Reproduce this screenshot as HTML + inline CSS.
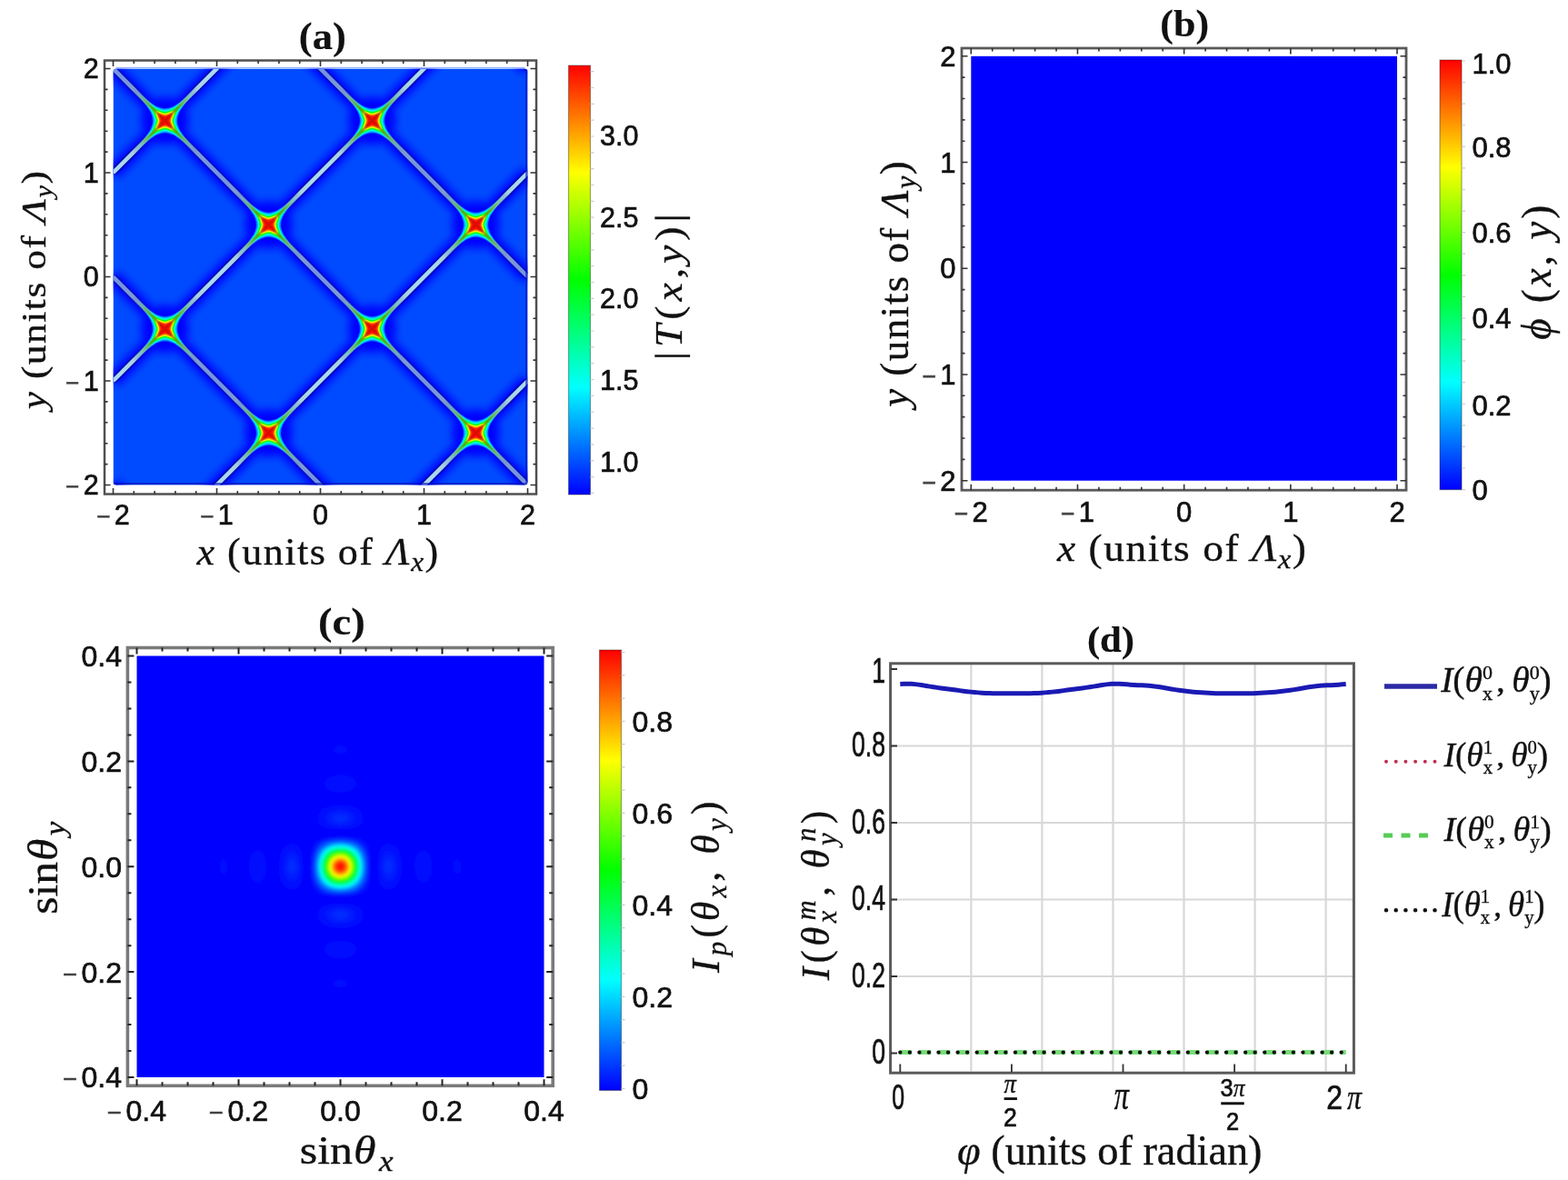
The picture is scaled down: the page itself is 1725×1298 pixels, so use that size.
<!DOCTYPE html>
<html><head><meta charset="utf-8"><title>Figure</title>
<style>
html,body{margin:0;padding:0;background:#fff;}
body{width:1725px;height:1298px;overflow:hidden;}
svg{display:block;}
.s{font-family:'Liberation Sans', Arial, sans-serif;fill:#111;stroke:#111;stroke-width:0.7px;}
.r{font-family:'Liberation Serif', 'Times New Roman', serif;fill:#111;stroke:#111;stroke-width:0.35px;}
.i{font-style:italic;}
.b{font-weight:bold;stroke-width:0.2px;}
</style></head><body>
<svg width="1725" height="1298" viewBox="0 0 1725 1298">
<defs>
<linearGradient id="hue" x1="0" y1="1" x2="0" y2="0">
<stop offset="0" stop-color="#0000ff"/><stop offset="0.25" stop-color="#00ffff"/><stop offset="0.5" stop-color="#00ff00"/><stop offset="0.75" stop-color="#ffff00"/><stop offset="1" stop-color="#ff0000"/>
</linearGradient>
<filter id="blurh" x="-20%" y="-20%" width="140%" height="140%"><feGaussianBlur stdDeviation="5"/></filter>
<filter id="blurs" x="-20%" y="-20%" width="140%" height="140%"><feGaussianBlur stdDeviation="0.5"/></filter>
<filter id="blurc" x="-10%" y="-10%" width="120%" height="120%"><feGaussianBlur stdDeviation="1.4"/></filter>
<radialGradient id="olive" gradientUnits="userSpaceOnUse" cx="0" cy="0" r="46"><stop offset="0.1" stop-color="#902010" stop-opacity="0.35"/><stop offset="0.3" stop-color="#7a5a10" stop-opacity="0.55"/><stop offset="0.6" stop-color="#607a30" stop-opacity="0.5"/><stop offset="1" stop-color="#7090a0" stop-opacity="0"/></radialGradient>
<radialGradient id="mfade"><stop offset="0.45" stop-color="#000"/><stop offset="1" stop-color="#fff"/></radialGradient>
</defs>
<rect width="1725" height="1298" fill="#fff"/>

<clipPath id="clipa"><rect x="124.5" y="75.5" width="456.0" height="458.0" rx="3.5"/></clipPath>
<g clip-path="url(#clipa)">
<rect x="124.5" y="75.5" width="456.0" height="458.0" fill="#004bff"/>
<g filter="url(#blurh)"><path d="M124.5 533.5L580.5 991.5M124.5 304.5L580.5 762.5M124.5 75.5L580.5 533.5M124.5 -153.5L580.5 304.5M124.5 -382.5L580.5 75.5M124.5 877L580.5 419M124.5 648L580.5 190M124.5 419L580.5 -39M124.5 190L580.5 -268" stroke="#0000ff" stroke-width="16" fill="none"/>
<circle cx="181.5" cy="132.75" r="26" fill="#0000ff"/>
<circle cx="409.5" cy="132.75" r="26" fill="#0000ff"/>
<circle cx="295.5" cy="247.25" r="26" fill="#0000ff"/>
<circle cx="523.5" cy="247.25" r="26" fill="#0000ff"/>
<circle cx="181.5" cy="361.75" r="26" fill="#0000ff"/>
<circle cx="409.5" cy="361.75" r="26" fill="#0000ff"/>
<circle cx="295.5" cy="476.25" r="26" fill="#0000ff"/>
<circle cx="523.5" cy="476.25" r="26" fill="#0000ff"/>
</g>
<defs><g id="hs" filter="url(#blurs)">
<path d="M-36.9,-36.8 -36.8,-36.9 -36.5,-36.8 -35.2,-35.9 -19.3,-22.8 -11.8,-17.2 -8.5,-15.5 -5.5,-14.5 -2.8,-13.8 0.0,-13.6 2.8,-13.8 5.5,-14.5 8.5,-15.5 11.8,-17.2 18.0,-21.8 34.8,-35.5 36.8,-36.9 36.9,-36.8 36.8,-36.5 35.9,-35.2 22.8,-19.3 17.2,-11.8 15.5,-8.5 14.5,-5.5 13.8,-2.8 13.6,0.0 13.8,2.8 14.5,5.5 15.5,8.5 17.2,11.8 21.8,18.0 35.5,34.8 36.9,36.8 36.8,36.9 36.5,36.8 35.2,35.9 19.3,22.8 11.8,17.2 8.5,15.5 5.5,14.5 2.8,13.8 0.0,13.6 -2.8,13.8 -5.5,14.5 -8.5,15.5 -11.8,17.2 -18.0,21.8 -34.8,35.5 -36.8,36.9 -36.9,36.8 -36.8,36.5 -35.9,35.2 -22.8,19.3 -17.2,11.8 -15.5,8.5 -14.5,5.5 -13.8,2.8 -13.6,0.0 -13.8,-2.8 -14.5,-5.5 -15.5,-8.5 -17.2,-11.8 -21.8,-18.0 -35.5,-34.8Z" fill="#0078ff"/>
<path d="M-34.6,-34.5 -34.2,-34.5 -32.8,-33.5 -18.0,-21.2 -11.2,-16.3 -8.5,-14.8 -5.2,-13.6 -2.8,-13.0 0.0,-12.7 2.9,-13.0 5.5,-13.7 8.9,-15.0 11.6,-16.5 18.0,-21.2 32.8,-33.5 34.5,-34.6 34.5,-34.2 33.5,-32.8 21.2,-18.0 16.3,-11.2 14.8,-8.5 13.6,-5.2 13.0,-2.8 12.7,0.0 13.0,2.9 13.7,5.5 15.0,8.9 16.5,11.6 21.2,18.0 33.5,32.8 34.6,34.5 34.2,34.5 32.8,33.5 18.0,21.2 11.2,16.3 8.5,14.8 5.2,13.6 2.8,13.0 0.0,12.7 -2.9,13.0 -5.5,13.7 -8.9,15.0 -11.6,16.5 -18.0,21.2 -32.8,33.5 -34.5,34.6 -34.5,34.2 -33.5,32.8 -21.2,18.0 -16.3,11.2 -14.8,8.5 -13.6,5.2 -13.0,2.8 -12.7,0.0 -13.0,-2.9 -13.7,-5.5 -15.0,-8.9 -16.5,-11.6 -21.2,-18.0 -33.5,-32.8Z" fill="#009cff"/>
<path d="M-32.7,-32.5 -32.2,-32.6 -31.0,-31.7 -17.2,-20.2 -11.2,-15.8 -9.0,-14.5 -5.3,-13.0 -2.5,-12.3 0.0,-12.0 2.5,-12.3 5.3,-13.0 9.0,-14.5 11.2,-15.8 16.0,-19.2 29.7,-30.7 32.5,-32.7 32.6,-32.2 31.7,-31.0 20.2,-17.2 15.8,-11.2 14.5,-9.0 13.0,-5.3 12.3,-2.5 12.0,0.0 12.3,2.5 13.0,5.3 14.5,9.0 15.8,11.2 19.2,16.0 30.7,29.7 32.7,32.5 32.2,32.6 31.0,31.7 17.2,20.2 11.2,15.8 9.0,14.5 5.3,13.0 2.5,12.3 0.0,12.0 -2.5,12.3 -5.3,13.0 -9.0,14.5 -11.2,15.8 -16.0,19.2 -29.7,30.7 -32.5,32.7 -32.6,32.2 -31.7,31.0 -20.2,17.2 -15.8,11.2 -14.5,9.0 -13.0,5.3 -12.3,2.5 -12.0,0.0 -12.3,-2.5 -13.0,-5.3 -14.5,-9.0 -15.8,-11.2 -19.2,-16.0 -30.7,-29.7Z" fill="#00bfff"/>
<path d="M-31.0,-31.0 -30.2,-30.8 -29.2,-30.0 -15.8,-18.8 -11.0,-15.2 -8.8,-14.0 -5.2,-12.5 -2.4,-11.8 0.0,-11.4 2.4,-11.8 5.2,-12.5 8.8,-14.0 11.0,-15.2 15.8,-18.8 29.2,-30.0 31.0,-31.0 30.8,-30.2 30.0,-29.2 18.8,-15.8 15.2,-11.0 14.0,-8.8 12.5,-5.2 11.8,-2.4 11.4,0.0 11.8,2.4 12.5,5.2 14.0,8.8 15.2,11.0 18.8,15.8 30.0,29.2 31.0,31.0 30.2,30.8 29.2,30.0 15.8,18.8 11.0,15.2 8.8,14.0 5.2,12.5 2.4,11.8 0.0,11.4 -2.4,11.8 -5.2,12.5 -8.8,14.0 -11.0,15.2 -15.8,18.8 -29.2,30.0 -31.0,31.0 -30.8,30.2 -30.0,29.2 -18.8,15.8 -15.2,11.0 -14.0,8.8 -12.5,5.2 -11.8,2.4 -11.4,0.0 -11.8,-2.4 -12.5,-5.2 -14.0,-8.8 -15.2,-11.0 -18.8,-15.8 -30.0,-29.2Z" fill="#00e3ff"/>
<path d="M-29.5,-29.5 -28.8,-29.3 -27.8,-28.5 -15.5,-18.2 -10.8,-14.8 -5.5,-12.2 -2.5,-11.3 0.0,-11.0 2.5,-11.3 5.5,-12.2 10.8,-14.8 15.5,-18.2 27.8,-28.5 28.8,-29.3 29.5,-29.5 29.3,-28.8 28.5,-27.8 18.2,-15.5 14.8,-10.8 12.2,-5.5 11.3,-2.5 11.0,0.0 11.3,2.5 12.2,5.5 14.8,10.8 18.2,15.5 28.5,27.8 29.3,28.8 29.5,29.5 28.8,29.3 27.8,28.5 15.5,18.2 10.8,14.8 5.5,12.2 2.5,11.3 0.0,11.0 -2.5,11.3 -5.5,12.2 -10.8,14.8 -15.5,18.2 -27.8,28.5 -28.8,29.3 -29.5,29.5 -29.3,28.8 -28.5,27.8 -18.2,15.5 -14.8,10.8 -12.2,5.5 -11.3,2.5 -11.0,0.0 -11.3,-2.5 -12.2,-5.5 -14.8,-10.8 -18.2,-15.5 -28.5,-27.8 -29.3,-28.8Z" fill="#00fff7"/>
<path d="M-28.1,-28.0 -27.5,-27.9 -26.2,-27.0 -15.2,-17.7 -10.5,-14.2 -5.2,-11.8 -2.5,-11.0 0.0,-10.6 2.5,-11.0 5.2,-11.8 10.5,-14.2 15.2,-17.7 26.2,-27.0 28.0,-28.1 27.9,-27.5 27.0,-26.2 17.7,-15.2 14.2,-10.5 11.8,-5.2 11.0,-2.5 10.6,0.0 11.0,2.5 11.8,5.2 14.2,10.5 17.7,15.2 27.0,26.2 28.1,28.0 27.5,27.9 26.2,27.0 15.2,17.7 10.5,14.2 5.2,11.8 2.5,11.0 0.0,10.6 -2.5,11.0 -5.2,11.8 -10.5,14.2 -15.2,17.7 -26.2,27.0 -28.0,28.1 -27.9,27.5 -27.0,26.2 -17.7,15.2 -14.2,10.5 -11.8,5.2 -11.0,2.5 -10.6,0.0 -11.0,-2.5 -11.8,-5.2 -14.2,-10.5 -17.7,-15.2 -27.0,-26.2Z" fill="#00ffd4"/>
<path d="M-26.7,-26.5 -26.2,-26.6 -25.0,-25.7 -14.8,-17.1 -10.5,-14.0 -5.2,-11.4 -2.2,-10.6 0.0,-10.2 2.2,-10.6 5.2,-11.4 10.6,-14.0 14.8,-17.1 25.0,-25.7 26.5,-26.7 26.6,-26.2 25.7,-25.0 17.1,-14.8 14.0,-10.5 11.4,-5.2 10.6,-2.2 10.2,0.0 10.6,2.2 11.4,5.2 14.0,10.6 17.1,14.8 25.7,25.0 26.7,26.5 26.2,26.6 25.0,25.7 14.8,17.1 10.5,14.0 5.2,11.4 2.2,10.6 0.0,10.2 -2.2,10.6 -5.2,11.4 -10.6,14.0 -14.8,17.1 -25.0,25.7 -26.5,26.7 -26.6,26.2 -25.7,25.0 -17.1,14.8 -14.0,10.5 -11.4,5.2 -10.6,2.2 -10.2,0.0 -10.6,-2.2 -11.4,-5.2 -14.0,-10.6 -17.1,-14.8 -25.7,-25.0Z" fill="#00ffb0"/>
<path d="M-25.1,-25.0 -24.8,-25.1 -23.5,-24.2 -14.2,-16.4 -10.2,-13.5 -4.8,-11.0 -2.2,-10.2 0.0,-9.9 2.2,-10.2 4.8,-11.0 7.3,-12.0 10.5,-13.7 14.2,-16.4 23.5,-24.2 25.0,-25.1 25.1,-24.8 24.2,-23.5 16.4,-14.2 13.5,-10.2 11.0,-4.8 10.2,-2.2 9.9,0.0 10.2,2.2 11.0,4.8 12.0,7.3 13.7,10.5 16.4,14.2 24.2,23.5 25.1,25.0 24.8,25.1 23.5,24.2 14.2,16.4 10.2,13.5 4.8,11.0 2.2,10.2 0.0,9.9 -2.2,10.2 -4.8,11.0 -7.3,12.0 -10.5,13.7 -14.2,16.4 -23.5,24.2 -25.0,25.1 -25.1,24.8 -24.2,23.5 -16.4,14.2 -13.5,10.2 -11.0,4.8 -10.2,2.2 -9.9,0.0 -10.2,-2.2 -11.0,-4.8 -12.0,-7.3 -13.7,-10.5 -16.4,-14.2 -24.2,-23.5Z" fill="#00ff8c"/>
<path d="M-23.5,-23.2 -23.2,-23.5 -22.4,-23.0 -14.0,-15.9 -10.2,-13.2 -4.8,-10.7 -2.2,-9.9 0.0,-9.6 2.2,-9.9 4.8,-10.7 10.2,-13.3 13.5,-15.5 21.5,-22.3 23.2,-23.5 23.5,-23.2 23.0,-22.4 15.9,-14.0 13.2,-10.2 10.7,-4.8 9.9,-2.2 9.6,0.0 9.9,2.2 10.7,4.8 13.3,10.2 15.5,13.5 22.3,21.5 23.5,23.2 23.2,23.5 22.4,23.0 14.0,15.9 10.2,13.2 4.8,10.7 2.2,9.9 0.0,9.6 -2.2,9.9 -4.8,10.7 -10.2,13.3 -13.5,15.5 -21.5,22.3 -23.2,23.5 -23.5,23.2 -23.0,22.4 -15.9,14.0 -13.2,10.2 -10.7,4.8 -9.9,2.2 -9.6,0.0 -9.9,-2.2 -10.7,-4.8 -13.3,-10.2 -15.5,-13.5 -22.3,-21.5Z" fill="#00ff69"/>
<path d="M-21.4,-21.2 -21.2,-21.4 -20.5,-21.0 -13.2,-15.1 -10.0,-12.9 -4.2,-10.3 -2.0,-9.6 0.0,-9.3 2.0,-9.6 4.5,-10.4 10.2,-13.0 13.0,-14.9 19.5,-20.2 21.2,-21.4 21.4,-21.2 21.0,-20.5 15.1,-13.2 12.9,-10.0 10.3,-4.2 9.6,-2.0 9.3,0.0 9.6,2.0 10.4,4.5 13.0,10.2 14.9,13.0 20.2,19.5 21.4,21.2 21.2,21.4 20.5,21.0 13.2,15.1 10.0,12.9 4.2,10.3 2.0,9.6 0.0,9.3 -2.0,9.6 -4.5,10.4 -10.2,13.0 -13.0,14.9 -19.5,20.2 -21.2,21.4 -21.4,21.2 -21.0,20.5 -15.1,13.2 -12.9,10.0 -10.3,4.2 -9.6,2.0 -9.3,0.0 -9.6,-2.0 -10.4,-4.5 -13.0,-10.2 -14.9,-13.0 -20.2,-19.5Z" fill="#00ff45"/>
<path d="M-18.7,-18.5 -18.5,-18.7 -17.8,-18.3 -12.8,-14.4 -9.5,-12.4 -4.0,-10.0 -1.8,-9.3 0.0,-9.1 1.8,-9.3 4.0,-10.0 9.8,-12.5 12.5,-14.2 18.5,-18.7 18.7,-18.5 18.3,-17.8 14.4,-12.8 12.4,-9.5 10.0,-4.0 9.3,-1.8 9.1,0.0 9.3,1.8 10.0,4.0 12.5,9.8 14.2,12.5 18.7,18.5 18.5,18.7 17.8,18.3 12.8,14.4 9.5,12.4 4.0,10.0 1.8,9.3 0.0,9.1 -1.8,9.3 -4.0,10.0 -9.8,12.5 -12.5,14.2 -18.5,18.7 -18.7,18.5 -18.3,17.8 -14.4,12.8 -12.4,9.5 -10.0,4.0 -9.3,1.8 -9.1,0.0 -9.3,-1.8 -10.0,-4.0 -12.5,-9.8 -14.2,-12.5Z" fill="#00ff21"/>
<path d="M-15.3,-15.2 -14.8,-15.2 -10.5,-12.6 -6.6,-10.8 -2.8,-9.3 0.0,-8.8 2.8,-9.3 6.6,-10.8 10.5,-12.6 14.8,-15.2 15.2,-15.3 15.2,-14.8 12.6,-10.5 10.8,-6.6 9.3,-2.8 8.8,0.0 9.3,2.8 10.8,6.6 12.6,10.5 15.2,14.8 15.3,15.2 14.8,15.2 10.5,12.6 6.6,10.8 2.8,9.3 0.0,8.8 -2.8,9.3 -6.6,10.8 -10.5,12.6 -14.8,15.2 -15.2,15.3 -15.2,14.8 -12.6,10.5 -10.8,6.6 -9.3,2.8 -8.8,0.0 -9.3,-2.8 -10.8,-6.6 -12.6,-10.5 -15.2,-14.8Z" fill="#03ff00"/>
<path d="M-13.2,-13.2 -12.5,-13.2 -3.8,-9.4 -1.8,-8.8 0.0,-8.6 3.5,-9.3 12.5,-13.2 13.2,-13.2 13.2,-12.5 9.4,-3.8 8.8,-1.8 8.6,0.0 9.3,3.5 13.2,12.5 13.2,13.2 12.5,13.2 3.8,9.4 1.8,8.8 0.0,8.6 -3.5,9.3 -12.5,13.2 -13.2,13.2 -13.2,12.5 -9.4,3.8 -8.8,1.8 -8.6,0.0 -9.3,-3.5 -13.2,-12.5Z" fill="#26ff00"/>
<path d="M-12.1,-12.0 -11.8,-12.2 -11.0,-12.1 -3.2,-9.0 0.0,-8.3 3.2,-9.0 10.8,-12.0 11.5,-12.2 12.0,-12.1 12.2,-11.8 12.1,-11.0 9.0,-3.2 8.3,0.0 9.0,3.2 12.0,10.8 12.2,11.5 12.1,12.0 11.8,12.2 11.0,12.1 3.2,9.0 0.0,8.3 -3.2,9.0 -10.8,12.0 -11.5,12.2 -12.0,12.1 -12.2,11.8 -12.1,11.0 -9.0,3.2 -8.3,0.0 -9.0,-3.2 -12.0,-10.8 -12.2,-11.5Z" fill="#4aff00"/>
<path d="M-11.2,-11.3 -10.8,-11.5 -9.8,-11.3 -3.0,-8.7 0.0,-8.1 3.0,-8.7 9.8,-11.3 10.8,-11.5 11.3,-11.2 11.5,-10.8 11.3,-9.8 8.7,-3.0 8.1,0.0 8.7,3.0 11.3,9.8 11.5,10.8 11.2,11.3 10.8,11.5 9.8,11.3 3.0,8.7 0.0,8.1 -3.0,8.7 -9.8,11.3 -10.8,11.5 -11.3,11.2 -11.5,10.8 -11.3,9.8 -8.7,3.0 -8.1,0.0 -8.7,-3.0 -11.3,-9.8 -11.5,-10.8Z" fill="#6eff00"/>
<path d="M-10.5,-10.8 -10.0,-10.9 -9.0,-10.8 -2.8,-8.4 0.0,-7.9 2.8,-8.4 9.2,-10.8 10.2,-10.9 10.7,-10.5 10.9,-10.0 10.8,-9.0 8.4,-2.8 7.9,0.0 8.4,2.8 10.8,9.2 10.9,10.2 10.5,10.7 10.0,10.9 9.0,10.8 2.8,8.4 0.0,7.9 -2.8,8.4 -9.2,10.8 -10.2,10.9 -10.7,10.5 -10.9,10.0 -10.8,9.0 -8.4,2.8 -7.9,0.0 -8.4,-2.8 -10.8,-9.2 -10.9,-10.2Z" fill="#91ff00"/>
<path d="M-10.0,-10.2 -9.2,-10.4 -8.2,-10.3 -2.5,-8.1 0.0,-7.6 2.5,-8.1 8.5,-10.3 9.5,-10.4 10.2,-10.0 10.4,-9.2 10.3,-8.2 8.1,-2.5 7.6,0.0 8.1,2.5 10.3,8.5 10.4,9.5 10.0,10.2 9.2,10.4 8.2,10.3 2.5,8.1 0.0,7.6 -2.5,8.1 -8.5,10.3 -9.5,10.4 -10.2,10.0 -10.4,9.2 -10.3,8.2 -8.1,2.5 -7.6,0.0 -8.1,-2.5 -10.3,-8.5 -10.4,-9.5Z" fill="#b5ff00"/>
<path d="M-9.1,-10.0 -7.2,-9.7 -2.0,-7.7 0.0,-7.4 2.5,-7.9 8.0,-9.9 9.0,-10.0 9.8,-9.6 10.0,-9.0 9.9,-8.0 7.9,-2.5 7.4,0.0 7.9,2.5 9.9,8.0 10.0,9.0 9.6,9.8 9.0,10.0 8.0,9.9 2.5,7.9 0.0,7.4 -2.5,7.9 -8.0,9.9 -9.0,10.0 -9.8,9.6 -10.0,9.0 -9.9,8.0 -7.9,2.5 -7.4,0.0 -7.9,-2.5 -10.0,-8.2 -9.9,-9.2Z" fill="#d9ff00"/>
<path d="M-8.9,-9.5 -7.5,-9.5 -2.2,-7.5 0.0,-7.1 2.2,-7.5 7.5,-9.5 8.5,-9.6 9.2,-9.2 9.6,-8.5 9.5,-7.5 7.5,-2.2 7.1,0.0 7.5,2.2 9.5,7.5 9.6,8.5 9.2,9.2 8.5,9.6 7.5,9.5 2.2,7.5 0.0,7.1 -2.2,7.5 -7.5,9.5 -8.5,9.6 -9.2,9.2 -9.6,8.5 -9.5,7.5 -7.5,2.2 -7.1,0.0 -7.5,-2.2 -9.6,-7.8 -9.6,-8.8Z" fill="#fcff00"/>
<path d="M-8.7,-9.0 -8.0,-9.2 -7.0,-9.1 -2.2,-7.3 0.0,-6.9 2.2,-7.3 7.2,-9.2 8.2,-9.2 8.9,-8.8 9.2,-8.2 9.2,-7.2 7.3,-2.2 6.9,0.0 7.3,2.2 9.2,7.2 9.2,8.2 8.8,8.9 8.2,9.2 7.2,9.2 2.2,7.3 0.0,6.9 -2.2,7.3 -7.2,9.2 -8.2,9.2 -8.9,8.8 -9.2,8.2 -9.2,7.2 -7.3,2.2 -6.9,0.0 -7.3,-2.2 -9.2,-7.2 -9.2,-8.2Z" fill="#ffde00"/>
<path d="M-8.0,-8.8 -6.7,-8.8 -2.2,-7.0 0.0,-6.6 2.2,-7.0 6.8,-8.8 7.8,-8.8 8.5,-8.4 8.8,-7.8 8.8,-6.8 7.0,-2.2 6.6,0.0 7.0,2.2 8.8,6.8 8.8,7.8 8.4,8.5 7.8,8.8 6.8,8.8 2.2,7.0 0.0,6.6 -2.2,7.0 -6.8,8.8 -7.8,8.8 -8.5,8.4 -8.8,7.8 -8.8,6.8 -7.0,2.2 -6.6,0.0 -6.9,-2.0 -8.8,-7.0 -8.8,-8.0Z" fill="#ffba00"/>
<path d="M-7.8,-8.2 -7.2,-8.4 -6.2,-8.3 -2.0,-6.6 0.0,-6.3 2.0,-6.6 6.5,-8.4 7.5,-8.4 8.1,-8.0 8.4,-7.5 8.4,-6.5 6.6,-2.0 6.3,0.0 6.6,2.0 8.4,6.5 8.4,7.5 8.0,8.1 7.5,8.4 6.5,8.4 2.0,6.6 0.0,6.3 -2.0,6.6 -6.5,8.4 -7.5,8.4 -8.1,8.0 -8.4,7.5 -8.4,6.5 -6.6,2.0 -6.3,0.0 -6.6,-2.0 -8.4,-6.8 -8.4,-7.5Z" fill="#ff9600"/>
<path d="M-6.9,-8.0 -5.5,-7.8 -1.8,-6.2 0.0,-6.0 2.0,-6.3 6.2,-8.0 7.0,-8.0 7.7,-7.5 8.0,-6.9 7.9,-6.0 6.3,-2.0 6.0,0.0 6.3,2.0 8.0,6.2 8.0,7.0 7.5,7.7 6.9,8.0 6.0,7.9 2.0,6.3 0.0,6.0 -2.0,6.3 -6.2,8.0 -7.0,8.0 -7.7,7.5 -8.0,6.9 -7.9,6.0 -6.4,2.2 -6.0,0.2 -6.3,-2.0 -8.0,-6.5 -7.8,-7.5Z" fill="#ff7300"/>
<path d="M-6.3,-7.5 -5.1,-7.2 -1.8,-5.9 0.0,-5.6 2.0,-5.9 5.8,-7.4 6.5,-7.5 7.2,-7.0 7.5,-6.5 7.4,-5.8 5.9,-2.0 5.6,0.0 5.9,2.0 7.4,5.8 7.5,6.5 7.0,7.2 6.5,7.5 5.8,7.4 2.0,5.9 0.0,5.6 -2.0,5.9 -5.8,7.4 -6.5,7.5 -7.2,7.0 -7.5,6.5 -7.4,5.8 -5.9,2.0 -5.6,0.2 -5.9,-1.8 -7.5,-6.0 -7.3,-7.0Z" fill="#ff4f00"/>
<path d="M-6.2,-6.8 -5.1,-6.8 -1.8,-5.4 0.0,-5.0 1.8,-5.4 5.2,-6.8 6.0,-6.8 6.5,-6.5 6.8,-6.0 6.8,-5.2 5.4,-1.8 5.0,0.0 5.4,1.8 6.8,5.2 6.8,6.0 6.5,6.5 6.0,6.8 5.2,6.8 1.8,5.4 0.0,5.0 -1.8,5.4 -5.2,6.8 -6.0,6.8 -6.5,6.5 -6.8,6.0 -6.8,5.2 -5.4,1.8 -5.0,0.0 -5.4,-1.8 -6.8,-5.5 -6.8,-6.2Z" fill="#ff2b00"/>
<path d="M-5.3,-5.8 -4.5,-5.8 -1.8,-4.6 0.0,-4.2 1.8,-4.6 4.5,-5.8 5.2,-5.8 5.6,-5.5 5.8,-4.5 4.6,-1.8 4.2,0.0 4.6,1.8 5.8,4.5 5.8,5.2 5.5,5.6 4.5,5.8 1.8,4.6 0.0,4.2 -1.8,4.6 -4.5,5.8 -5.2,5.8 -5.6,5.5 -5.8,4.5 -4.6,1.8 -4.2,0.0 -4.6,-1.8 -5.8,-4.8 -5.8,-5.3Z" fill="#ff0800"/>
<path d="M-40,-40L40,40M-40,40L40,-40" stroke="url(#olive)" stroke-width="2.6" fill="none"/>
</g>
<mask id="mlines" maskUnits="userSpaceOnUse" x="124.5" y="75.5" width="456.0" height="458.0"><rect x="124.5" y="75.5" width="456.0" height="458.0" fill="#fff"/>
<circle cx="181.5" cy="132.75" r="50" fill="url(#mfade)"/>
<circle cx="409.5" cy="132.75" r="50" fill="url(#mfade)"/>
<circle cx="295.5" cy="247.25" r="50" fill="url(#mfade)"/>
<circle cx="523.5" cy="247.25" r="50" fill="url(#mfade)"/>
<circle cx="181.5" cy="361.75" r="50" fill="url(#mfade)"/>
<circle cx="409.5" cy="361.75" r="50" fill="url(#mfade)"/>
<circle cx="295.5" cy="476.25" r="50" fill="url(#mfade)"/>
<circle cx="523.5" cy="476.25" r="50" fill="url(#mfade)"/>
</mask></defs>
<use href="#hs" x="181.5" y="132.75"/>
<use href="#hs" x="409.5" y="132.75"/>
<use href="#hs" x="295.5" y="247.25"/>
<use href="#hs" x="523.5" y="247.25"/>
<use href="#hs" x="181.5" y="361.75"/>
<use href="#hs" x="409.5" y="361.75"/>
<use href="#hs" x="295.5" y="476.25"/>
<use href="#hs" x="523.5" y="476.25"/>
<g mask="url(#mlines)">
<path d="M124.5 533.5L580.5 991.5M124.5 304.5L580.5 762.5M124.5 75.5L580.5 533.5M124.5 -153.5L580.5 304.5M124.5 -382.5L580.5 75.5" stroke="#0010c0" stroke-width="8" fill="none"/>
<path d="M124.5 877L580.5 419M124.5 648L580.5 190M124.5 419L580.5 -39M124.5 190L580.5 -268" stroke="#0008b0" stroke-width="8" fill="none"/>
<path d="M124.5 533.5L580.5 991.5M124.5 304.5L580.5 762.5M124.5 75.5L580.5 533.5M124.5 -153.5L580.5 304.5M124.5 -382.5L580.5 75.5" stroke="#7595e0" stroke-width="4.6" fill="none"/>
<path d="M124.5 877L580.5 419M124.5 648L580.5 190M124.5 419L580.5 -39M124.5 190L580.5 -268" stroke="#a8daf0" stroke-width="4.6" fill="none"/>
</g>
<defs><radialGradient id="armg" gradientUnits="userSpaceOnUse" cx="0" cy="0" r="68"><stop offset="0.2" stop-color="#90a860" stop-opacity="0"/><stop offset="0.42" stop-color="#90a860" stop-opacity="0.55"/><stop offset="0.65" stop-color="#98b0a0" stop-opacity="0.3"/><stop offset="1" stop-color="#a0b8c0" stop-opacity="0"/></radialGradient>
<g id="arms"><path d="M-68,-68L68,68M-68,68L68,-68" stroke="url(#armg)" stroke-width="4.6" fill="none"/></g></defs>
<use href="#arms" x="181.5" y="132.75"/>
<use href="#arms" x="409.5" y="132.75"/>
<use href="#arms" x="295.5" y="247.25"/>
<use href="#arms" x="523.5" y="247.25"/>
<use href="#arms" x="181.5" y="361.75"/>
<use href="#arms" x="409.5" y="361.75"/>
<use href="#arms" x="295.5" y="476.25"/>
<use href="#arms" x="523.5" y="476.25"/>
<path d="M579.3 75.5V532.3H124.5" stroke="#0008b8" stroke-opacity="0.6" stroke-width="2.4" fill="none"/>
</g>
<path d="M127.5 74.7H577.5" stroke="#90b0ff" stroke-width="1.2" fill="none"/>
<rect x="115" y="66.5" width="475" height="477" fill="none" stroke="#505050" stroke-width="2.5"/>
<path d="M124.5 543.5v-6.5M124.5 66.5v6.5M238.5 543.5v-6.5M238.5 66.5v6.5M352.5 543.5v-6.5M352.5 66.5v6.5M466.5 543.5v-6.5M466.5 66.5v6.5M580.5 543.5v-6.5M580.5 66.5v6.5M147.3 543.5v-3.5M147.3 66.5v3.5M170.1 543.5v-3.5M170.1 66.5v3.5M192.9 543.5v-3.5M192.9 66.5v3.5M215.7 543.5v-3.5M215.7 66.5v3.5M261.3 543.5v-3.5M261.3 66.5v3.5M284.1 543.5v-3.5M284.1 66.5v3.5M306.9 543.5v-3.5M306.9 66.5v3.5M329.7 543.5v-3.5M329.7 66.5v3.5M375.3 543.5v-3.5M375.3 66.5v3.5M398.1 543.5v-3.5M398.1 66.5v3.5M420.9 543.5v-3.5M420.9 66.5v3.5M443.7 543.5v-3.5M443.7 66.5v3.5M489.3 543.5v-3.5M489.3 66.5v3.5M512.1 543.5v-3.5M512.1 66.5v3.5M534.9 543.5v-3.5M534.9 66.5v3.5M557.7 543.5v-3.5M557.7 66.5v3.5M115 533.5h6.5M590 533.5h-6.5M115 419h6.5M590 419h-6.5M115 304.5h6.5M590 304.5h-6.5M115 190h6.5M590 190h-6.5M115 75.5h6.5M590 75.5h-6.5M115 510.6h3.5M590 510.6h-3.5M115 487.7h3.5M590 487.7h-3.5M115 464.8h3.5M590 464.8h-3.5M115 441.9h3.5M590 441.9h-3.5M115 396.1h3.5M590 396.1h-3.5M115 373.2h3.5M590 373.2h-3.5M115 350.3h3.5M590 350.3h-3.5M115 327.4h3.5M590 327.4h-3.5M115 281.6h3.5M590 281.6h-3.5M115 258.7h3.5M590 258.7h-3.5M115 235.8h3.5M590 235.8h-3.5M115 212.9h3.5M590 212.9h-3.5M115 167.1h3.5M590 167.1h-3.5M115 144.2h3.5M590 144.2h-3.5M115 121.3h3.5M590 121.3h-3.5M115 98.4h3.5M590 98.4h-3.5" stroke="#333" stroke-width="1.6" fill="none"/>
<text class="s" x="124.5" y="577.42" font-size="30.5" text-anchor="middle"><tspan fill="#3a3a3a" stroke="#4a4a4a" stroke-width="0.7" font-size="0.85em">−</tspan><tspan dx="4.5">2</tspan></text>
<text class="s" x="108.6" y="544.42" font-size="30.5" text-anchor="end"><tspan fill="#3a3a3a" stroke="#4a4a4a" stroke-width="0.7" font-size="0.85em">−</tspan><tspan dx="4.5">2</tspan></text>
<text class="s" x="238.5" y="577.42" font-size="30.5" text-anchor="middle"><tspan fill="#3a3a3a" stroke="#4a4a4a" stroke-width="0.7" font-size="0.85em">−</tspan><tspan dx="4.5">1</tspan></text>
<text class="s" x="108.6" y="429.92" font-size="30.5" text-anchor="end"><tspan fill="#3a3a3a" stroke="#4a4a4a" stroke-width="0.7" font-size="0.85em">−</tspan><tspan dx="4.5">1</tspan></text>
<text class="s" x="352.5" y="577.42" font-size="30.5" text-anchor="middle">0</text>
<text class="s" x="108.6" y="315.42" font-size="30.5" text-anchor="end">0</text>
<text class="s" x="466.5" y="577.42" font-size="30.5" text-anchor="middle">1</text>
<text class="s" x="108.6" y="200.92" font-size="30.5" text-anchor="end">1</text>
<text class="s" x="580.5" y="577.42" font-size="30.5" text-anchor="middle">2</text>
<text class="s" x="108.6" y="86.42" font-size="30.5" text-anchor="end">2</text>
<rect x="625.5" y="72" width="24" height="472" fill="url(#hue)" stroke="#000" stroke-opacity="0.35" stroke-width="1.2"/>
<path d="M649.5 542.37h4M649.5 524.53h4M649.5 506.7h4M649.5 488.86h4M649.5 471.03h4M649.5 453.19h4M649.5 435.36h4M649.5 417.52h4M649.5 399.69h4M649.5 381.85h4M649.5 364.02h4M649.5 346.18h4M649.5 328.35h4M649.5 310.51h4M649.5 292.68h4M649.5 274.85h4M649.5 257.01h4M649.5 239.18h4M649.5 221.34h4M649.5 203.5h4M649.5 185.67h4M649.5 167.83h4M649.5 150h4M649.5 132.16h4M649.5 114.33h4M649.5 96.5h4M649.5 78.66h4" stroke="#ccc" stroke-width="1.2"/>
<text class="s" x="660" y="518.82" font-size="30.5">1.0</text>
<text class="s" x="660" y="429.09" font-size="30.5">1.5</text>
<text class="s" x="660" y="339.37" font-size="30.5">2.0</text>
<text class="s" x="660" y="249.64" font-size="30.5">2.5</text>
<text class="s" x="660" y="159.92" font-size="30.5">3.0</text>
<g id="a_title" class="tg" transform="translate(354.80 43.49) scale(1.0353 0.9855) translate(-354.50 -44.50)"><text class="r b" x="354.5" y="55" font-size="43" text-anchor="middle">(a)</text></g>
<g id="a_xlab" class="tg" transform="translate(348.05 609.72) scale(1.0012 0.9410) translate(-346.00 -609.50)"><text class="r" x="348" y="621" font-size="44" letter-spacing="1.5" text-anchor="middle"><tspan class="i">x</tspan> (units of <tspan class="i">Λ</tspan><tspan class="i" font-size="31" dy="8">x</tspan><tspan dy="-8">)</tspan></text></g>
<g id="a_ylab" class="tg" transform="translate(42.54 321.80) scale(0.8826 0.9888) translate(-47.50 -320.50)"><text class="r" transform="translate(56 317) rotate(-90)" font-size="44" letter-spacing="1.5" text-anchor="middle"><tspan class="i">y</tspan> (units of <tspan class="i">Λ</tspan><tspan class="i" font-size="31" dy="8">y</tspan><tspan dy="-8">)</tspan></text></g>
<g id="a_cbl" class="tg" transform="translate(739.47 315.75) scale(0.9237 0.9930) translate(-738.50 -318.50)"><text class="r" transform="translate(750 316) rotate(-90)" font-size="46" letter-spacing="5" text-anchor="middle">|<tspan class="i">T</tspan>(<tspan class="i">x</tspan>,<tspan class="i">y</tspan>)|</text></g>
<rect x="1068.3" y="61.8" width="468.7" height="466.9" fill="#0000ff"/>
<rect x="1058" y="53" width="489" height="486.2" fill="none" stroke="#5a5a5a" stroke-width="2.8"/>
<path d="M1068.3 539.2v-6.5M1068.3 53v6.5M1185.47 539.2v-6.5M1185.47 53v6.5M1302.65 539.2v-6.5M1302.65 53v6.5M1419.83 539.2v-6.5M1419.83 53v6.5M1537 539.2v-6.5M1537 53v6.5M1091.73 539.2v-3.5M1091.73 53v3.5M1115.17 539.2v-3.5M1115.17 53v3.5M1138.61 539.2v-3.5M1138.61 53v3.5M1162.04 539.2v-3.5M1162.04 53v3.5M1208.91 539.2v-3.5M1208.91 53v3.5M1232.35 539.2v-3.5M1232.35 53v3.5M1255.78 539.2v-3.5M1255.78 53v3.5M1279.21 539.2v-3.5M1279.21 53v3.5M1326.09 539.2v-3.5M1326.09 53v3.5M1349.52 539.2v-3.5M1349.52 53v3.5M1372.95 539.2v-3.5M1372.95 53v3.5M1396.39 539.2v-3.5M1396.39 53v3.5M1443.26 539.2v-3.5M1443.26 53v3.5M1466.7 539.2v-3.5M1466.7 53v3.5M1490.13 539.2v-3.5M1490.13 53v3.5M1513.57 539.2v-3.5M1513.57 53v3.5M1058 528.7h6.5M1547 528.7h-6.5M1058 411.98h6.5M1547 411.98h-6.5M1058 295.25h6.5M1547 295.25h-6.5M1058 178.53h6.5M1547 178.53h-6.5M1058 61.8h6.5M1547 61.8h-6.5M1058 505.36h3.5M1547 505.36h-3.5M1058 482.01h3.5M1547 482.01h-3.5M1058 458.67h3.5M1547 458.67h-3.5M1058 435.32h3.5M1547 435.32h-3.5M1058 388.63h3.5M1547 388.63h-3.5M1058 365.29h3.5M1547 365.29h-3.5M1058 341.94h3.5M1547 341.94h-3.5M1058 318.6h3.5M1547 318.6h-3.5M1058 271.91h3.5M1547 271.91h-3.5M1058 248.56h3.5M1547 248.56h-3.5M1058 225.22h3.5M1547 225.22h-3.5M1058 201.87h3.5M1547 201.87h-3.5M1058 155.18h3.5M1547 155.18h-3.5M1058 131.83h3.5M1547 131.83h-3.5M1058 108.49h3.5M1547 108.49h-3.5M1058 85.14h3.5M1547 85.14h-3.5" stroke="#333" stroke-width="1.6" fill="none"/>
<text class="s" x="1068.3" y="573.5" font-size="31" text-anchor="middle"><tspan fill="#3a3a3a" stroke="#4a4a4a" stroke-width="0.7" font-size="0.85em">−</tspan><tspan dx="4.5">2</tspan></text>
<text class="s" x="1051.6" y="539.8" font-size="31" text-anchor="end"><tspan fill="#3a3a3a" stroke="#4a4a4a" stroke-width="0.7" font-size="0.85em">−</tspan><tspan dx="4.5">2</tspan></text>
<text class="s" x="1185.47" y="573.5" font-size="31" text-anchor="middle"><tspan fill="#3a3a3a" stroke="#4a4a4a" stroke-width="0.7" font-size="0.85em">−</tspan><tspan dx="4.5">1</tspan></text>
<text class="s" x="1051.6" y="423.07" font-size="31" text-anchor="end"><tspan fill="#3a3a3a" stroke="#4a4a4a" stroke-width="0.7" font-size="0.85em">−</tspan><tspan dx="4.5">1</tspan></text>
<text class="s" x="1302.65" y="573.5" font-size="31" text-anchor="middle">0</text>
<text class="s" x="1051.6" y="306.35" font-size="31" text-anchor="end">0</text>
<text class="s" x="1419.83" y="573.5" font-size="31" text-anchor="middle">1</text>
<text class="s" x="1051.6" y="189.62" font-size="31" text-anchor="end">1</text>
<text class="s" x="1537" y="573.5" font-size="31" text-anchor="middle">2</text>
<text class="s" x="1051.6" y="72.9" font-size="31" text-anchor="end">2</text>
<rect x="1584" y="66" width="24" height="472.6" fill="url(#hue)" stroke="#000" stroke-opacity="0.35" stroke-width="1.2"/>
<path d="M1608 538.6h4M1608 515.02h4M1608 491.44h4M1608 467.86h4M1608 444.28h4M1608 420.7h4M1608 397.12h4M1608 373.54h4M1608 349.96h4M1608 326.38h4M1608 302.8h4M1608 279.22h4M1608 255.64h4M1608 232.06h4M1608 208.48h4M1608 184.9h4M1608 161.32h4M1608 137.74h4M1608 114.16h4M1608 90.58h4M1608 67h4" stroke="#ccc" stroke-width="1.2"/>
<text class="s" x="1619.5" y="549.7" font-size="31">0</text>
<text class="s" x="1619.5" y="457.1" font-size="31">0.2</text>
<text class="s" x="1619.5" y="361.1" font-size="31">0.4</text>
<text class="s" x="1619.5" y="267.1" font-size="31">0.6</text>
<text class="s" x="1619.5" y="173.1" font-size="31">0.8</text>
<text class="s" x="1619.5" y="80.6" font-size="31">1.0</text>
<g id="b_title" class="tg" transform="translate(1303.18 30.29) scale(1.0217 0.9603) translate(-1303.00 -31.00)"><text class="r b" x="1303" y="41" font-size="43" text-anchor="middle">(b)</text></g>
<g id="b_xlab" class="tg" transform="translate(1298.60 606.60) scale(1.0319 0.9358) translate(-1297.00 -607.50)"><text class="r" x="1299" y="619" font-size="44" letter-spacing="1.5" text-anchor="middle"><tspan class="i">x</tspan> (units of <tspan class="i">Λ</tspan><tspan class="i" font-size="31" dy="8">x</tspan><tspan dy="-8">)</tspan></text></g>
<g id="b_ylab" class="tg" transform="translate(990.11 315.40) scale(1.0207 1.0195) translate(-997.50 -318.50)"><text class="r" transform="translate(1006 315) rotate(-90)" font-size="44" letter-spacing="1.5" text-anchor="middle"><tspan class="i">y</tspan> (units of <tspan class="i">Λ</tspan><tspan class="i" font-size="31" dy="8">y</tspan><tspan dy="-8">)</tspan></text></g>
<g id="b_cbl" class="tg" transform="translate(1694.44 300.25) scale(1.0060 0.9805) translate(-1694.50 -302.00)"><text class="r" transform="translate(1706 300) rotate(-90)" font-size="46" letter-spacing="3" text-anchor="middle"><tspan class="i">ϕ</tspan> (<tspan class="i">x</tspan>, <tspan class="i">y</tspan>)</text></g>
<rect x="150.5" y="721.5" width="448" height="463.5" fill="#0000ff"/>
<clipPath id="clipc"><rect x="150.5" y="721.5" width="448" height="463.5"/></clipPath>
<g clip-path="url(#clipc)"><g filter="url(#blurc)">
<path d="M372.9,820.0 377.0,820.1 380.8,821.5 382.0,822.5 382.8,824.0 382.9,825.5 382.5,826.5 381.6,827.5 380.0,828.5 376.0,829.5 371.5,829.3 368.1,828.0 366.9,827.0 366.1,825.5 366.2,824.0 366.6,823.0 367.5,822.0 369.1,821.0ZM370.1,852.0 375.5,851.7 380.5,852.2 385.0,853.4 388.5,855.2 390.9,857.5 392.3,860.5 392.5,863.5 391.2,866.5 389.2,868.5 386.0,870.2 382.0,871.3 377.5,871.9 372.5,872.0 367.5,871.4 363.5,870.4 360.0,868.6 357.8,866.5 356.7,864.0 356.6,861.0 357.5,858.4 359.5,856.0 362.0,854.3 365.5,852.9ZM368.1,885.5 376.0,885.2 383.5,885.8 389.5,887.2 394.3,889.5 396.1,891.0 397.8,893.0 398.8,895.0 399.6,897.5 399.9,900.0 399.8,902.5 399.2,904.5 398.2,906.5 395.6,909.0 392.0,910.8 387.0,912.0 380.0,912.7 371.5,912.8 363.5,912.2 357.5,910.9 353.4,909.0 351.6,907.5 350.5,906.0 349.2,902.5 349.3,898.0 349.9,895.5 351.0,893.4 353.4,890.5 357.0,888.2 362.0,886.5ZM364.3,919.5 372.0,919.1 380.5,919.2 387.5,919.8 393.0,920.6 397.0,921.8 400.0,923.2 402.5,925.1 404.7,928.0 405.9,930.5 406.8,933.5 408.2,942.0 408.6,953.0 408.2,964.5 407.2,971.5 405.5,977.0 403.0,980.8 399.5,983.6 394.0,985.6 386.0,986.9 374.0,987.4 362.5,986.8 355.5,985.8 350.5,984.1 347.0,981.8 344.3,978.5 342.8,975.0 341.6,970.5 340.8,964.5 340.5,958.0 340.4,950.0 340.8,942.5 341.6,936.0 342.8,931.5 343.8,929.0 345.3,926.5 347.2,924.5 349.5,922.9 352.0,921.8 355.5,920.7ZM319.4,928.0 322.5,927.8 325.5,928.5 328.0,929.8 330.0,931.8 331.5,934.5 332.7,938.0 333.9,947.0 334.1,954.0 333.8,961.0 333.1,966.5 331.9,971.0 330.5,974.0 328.5,976.3 326.0,977.9 322.5,978.7 319.0,978.4 316.0,977.5 313.5,976.0 311.1,973.5 309.3,970.5 308.1,967.0 307.1,962.5 306.6,957.5 306.5,951.5 306.9,945.5 307.8,940.5 309.1,936.5 310.7,933.5 313.0,930.9 316.0,929.0ZM425.3,928.0 428.5,927.9 432.0,928.6 435.0,930.2 437.5,932.5 439.4,935.5 440.8,939.0 441.8,943.5 442.5,949.5 442.5,956.0 442.0,962.0 440.9,967.0 439.4,971.0 437.5,974.0 434.8,976.5 431.5,978.1 428.0,978.7 425.0,978.5 422.5,977.6 420.5,976.3 418.5,974.0 417.3,971.5 416.2,968.0 415.1,959.0 414.9,952.0 415.2,945.5 415.8,940.5 416.9,936.0 418.2,933.0 420.0,930.6 422.5,928.9ZM281.4,935.5 283.5,935.2 286.0,935.6 288.0,936.8 289.5,938.3 290.9,940.5 291.9,943.0 292.7,946.5 293.1,950.0 293.2,954.5 292.9,958.5 292.2,962.5 291.1,965.5 289.7,968.0 288.0,969.7 286.0,970.9 284.0,971.3 282.0,971.2 280.0,970.4 278.0,969.0 276.5,967.3 275.2,965.0 274.2,962.5 273.1,956.0 273.3,948.5 274.8,942.5 276.0,940.0 277.5,938.0 279.5,936.3ZM463.4,935.5 465.5,935.2 468.0,935.6 470.0,936.7 472.0,938.6 473.5,940.9 474.6,943.5 475.5,947.0 475.9,950.5 476.0,954.5 475.6,958.5 474.9,962.0 473.8,965.0 472.3,967.5 470.5,969.4 468.5,970.7 466.0,971.3 464.0,971.2 462.0,970.4 460.5,969.3 459.0,967.6 457.0,963.0 455.9,956.5 456.0,948.5 456.6,945.0 457.5,942.0 458.5,939.7 460.0,937.7 461.5,936.4ZM245.0,945.0 247.0,944.9 249.0,946.5 250.2,949.0 250.8,952.0 250.7,955.5 249.9,958.5 248.5,960.6 246.5,961.7 244.5,961.3 243.0,959.9 241.8,957.5 241.2,954.5 241.3,951.5 242.0,948.5 243.5,946.0ZM501.8,945.0 503.5,944.8 505.5,946.0 507.0,948.5 507.8,952.0 507.6,956.0 506.6,959.0 505.0,960.9 503.0,961.7 501.5,961.4 500.0,960.0 498.8,957.5 498.2,954.5 498.3,951.0 499.0,948.3 500.4,946.0ZM366.5,994.0 375.5,993.7 384.0,994.1 390.5,995.3 395.0,997.1 396.9,998.5 398.2,1000.0 399.2,1002.0 399.8,1004.0 399.7,1008.5 399.1,1011.0 398.1,1013.0 395.6,1016.0 392.0,1018.3 387.5,1019.9 381.5,1020.9 373.5,1021.3 366.0,1020.8 360.0,1019.5 355.5,1017.5 352.0,1014.5 350.6,1012.5 349.8,1010.5 349.1,1006.0 349.3,1003.5 350.0,1001.5 352.1,998.5 355.5,996.3 360.5,994.8ZM373.9,1034.5 379.5,1034.8 384.0,1035.6 387.5,1037.0 390.3,1039.0 392.0,1041.5 392.6,1044.5 391.8,1047.5 390.0,1050.0 387.3,1052.0 383.8,1053.5 379.5,1054.4 374.5,1054.8 369.5,1054.4 365.2,1053.5 361.7,1052.0 359.0,1050.0 357.2,1047.5 356.4,1044.5 357.0,1041.5 358.7,1039.0 361.0,1037.3 364.5,1035.8 369.0,1034.8ZM372.5,1077.0 377.0,1077.1 379.0,1077.6 380.9,1078.5 382.1,1079.5 382.9,1081.0 382.8,1082.5 382.4,1083.5 381.5,1084.5 379.9,1085.5 376.0,1086.5 372.0,1086.4 368.2,1085.0 367.0,1084.0 366.2,1082.5 366.0,1081.5 366.5,1080.1 367.4,1079.0 369.0,1078.0Z" fill="#0007ff"/>
<path d="M374.1,857.5 378.2,858.0 381.2,859.5 382.1,860.5 382.7,862.0 382.4,863.5 381.7,864.5 380.4,865.5 378.5,866.3 374.5,866.9 370.5,866.3 367.5,864.7 366.6,863.5 366.3,862.5 366.6,861.0 367.3,860.0 370.0,858.3ZM369.4,888.0 375.5,887.7 381.5,888.3 386.5,889.5 390.5,891.5 393.7,894.5 395.3,898.0 395.5,901.5 395.0,903.5 394.2,905.0 392.0,907.3 388.9,909.0 384.5,910.2 379.0,910.9 372.5,911.1 366.0,910.5 361.0,909.3 357.3,907.5 354.8,905.0 353.6,902.0 353.6,898.5 355.0,895.0 357.2,892.5 360.5,890.4 364.5,888.9ZM366.9,920.5 374.0,920.2 381.0,920.4 388.0,921.2 393.0,922.3 397.0,923.8 400.0,925.7 402.5,928.4 404.3,931.5 406.2,937.5 407.3,946.0 407.5,956.5 406.7,966.0 405.3,972.5 403.2,977.0 400.5,980.3 396.5,982.9 390.5,984.9 381.5,986.0 370.5,986.2 361.0,985.3 355.0,983.9 350.5,981.8 347.2,979.0 344.7,975.0 343.3,971.0 342.4,966.5 341.8,961.0 341.5,954.5 341.6,947.5 342.2,941.5 343.1,936.5 344.3,932.5 345.8,929.5 347.2,927.5 349.0,925.7 351.5,924.1 354.5,922.7 358.0,921.7ZM319.0,932.5 321.5,932.2 324.0,932.5 326.0,933.4 328.0,935.1 329.5,937.3 330.7,940.0 331.5,943.5 332.1,948.0 332.4,953.0 332.1,958.5 331.5,963.0 330.5,967.0 329.1,970.0 327.5,972.0 325.0,973.7 322.5,974.3 320.0,974.2 317.5,973.4 315.2,972.0 313.3,970.0 311.7,967.5 310.5,964.5 309.6,961.0 309.1,957.0 309.0,952.5 309.3,948.0 310.0,944.0 311.1,940.5 312.6,937.5 314.5,935.1 316.5,933.6ZM425.0,932.5 427.5,932.2 430.5,932.7 433.0,933.9 435.3,936.0 437.0,938.5 438.5,942.0 439.4,945.5 439.9,950.0 440.0,955.0 439.6,959.5 438.6,964.0 437.3,967.5 435.5,970.3 433.5,972.2 431.0,973.7 428.0,974.3 425.5,974.1 423.5,973.4 421.5,972.0 420.3,970.5 419.0,968.2 418.0,965.5 416.8,958.0 416.9,948.0 417.5,943.5 418.3,940.0 419.5,937.3 421.0,935.1 423.0,933.4ZM282.0,945.5 284.0,945.1 286.0,946.3 287.3,948.5 288.0,951.5 288.0,955.0 287.3,958.0 286.0,960.2 284.0,961.4 282.0,961.0 280.5,959.6 279.4,957.5 278.9,955.0 278.8,952.0 279.4,949.0 280.5,946.9ZM464.0,945.5 466.0,945.1 468.0,946.3 469.4,948.5 470.1,951.5 470.1,955.0 469.4,958.0 468.0,960.2 466.0,961.4 464.5,961.2 462.8,960.0 461.7,958.0 461.0,955.0 460.9,952.0 461.5,949.0 462.5,946.9ZM370.9,995.5 377.5,995.5 383.5,996.1 388.0,997.2 391.7,999.0 394.2,1001.5 395.0,1003.0 395.5,1005.0 395.3,1008.5 393.7,1012.0 391.2,1014.5 387.7,1016.5 383.5,1017.8 378.0,1018.7 372.0,1018.7 366.5,1018.1 361.5,1016.6 358.0,1014.7 355.3,1012.0 353.7,1008.5 353.5,1005.0 354.0,1003.0 354.8,1001.5 357.3,999.0 360.5,997.4 365.0,996.2ZM371.2,1040.0 376.0,1039.7 380.0,1040.8 381.5,1041.8 382.4,1043.0 382.7,1044.0 382.4,1045.5 380.5,1047.5 377.0,1048.8 373.0,1048.9 369.4,1048.0 367.8,1047.0 366.9,1046.0 366.4,1045.0 366.4,1043.5 367.8,1041.5Z" fill="#000eff"/>
<path d="M369.3,890.5 374.0,890.1 379.0,890.4 383.5,891.4 387.0,893.1 389.8,895.5 391.2,898.0 391.6,901.0 390.5,904.0 388.6,906.0 385.9,907.5 382.5,908.5 378.0,909.2 373.0,909.3 368.5,908.9 364.5,908.0 361.2,906.5 359.0,904.7 357.7,902.5 357.4,900.0 358.2,897.0 360.0,894.6 362.5,892.8 365.5,891.4ZM366.6,921.5 373.0,921.2 380.0,921.3 386.0,921.9 391.5,923.1 395.5,924.7 398.5,926.6 401.0,929.0 403.2,932.5 405.2,938.5 406.4,946.5 406.5,956.5 405.7,965.5 404.2,971.5 402.1,976.0 399.1,979.5 395.0,982.1 388.5,984.1 380.5,985.2 371.0,985.3 362.0,984.4 356.0,982.9 351.5,980.7 348.4,978.0 345.8,974.0 344.3,970.0 343.3,965.5 342.7,960.5 342.4,954.5 342.5,948.0 343.1,942.5 343.9,938.0 345.2,934.0 346.3,931.5 348.0,929.0 350.0,927.0 352.5,925.2 355.5,923.8 358.5,922.9ZM319.3,936.5 321.5,936.1 323.5,936.4 325.5,937.4 327.0,938.9 328.4,941.0 329.3,943.5 330.5,950.0 330.3,958.0 329.7,961.5 328.8,964.5 327.5,967.0 326.0,968.7 324.0,969.9 322.0,970.4 320.0,970.2 318.0,969.4 316.5,968.4 314.8,966.5 312.6,962.0 311.4,956.0 311.5,949.5 313.0,943.4 314.2,941.0 315.6,939.0 317.5,937.4ZM425.2,936.5 427.5,936.1 429.5,936.4 431.5,937.4 433.5,939.1 435.0,941.3 436.2,944.0 437.1,947.0 437.6,950.5 437.6,954.5 437.3,958.0 436.6,961.5 435.5,964.3 434.0,966.8 432.3,968.5 430.5,969.7 428.0,970.4 426.0,970.2 424.5,969.7 423.0,968.7 421.5,967.0 419.5,962.5 418.5,956.5 418.6,949.0 419.8,943.0 420.9,940.5 422.0,938.9 423.5,937.4ZM369.1,997.5 374.5,997.1 379.5,997.4 384.0,998.3 387.5,999.8 390.1,1002.0 391.4,1004.5 391.5,1007.5 390.5,1010.0 388.5,1012.4 386.0,1014.0 383.0,1015.2 379.0,1016.1 374.5,1016.4 370.0,1016.1 366.0,1015.2 362.5,1013.7 359.6,1011.5 358.0,1009.0 357.4,1006.0 357.9,1003.5 359.5,1001.3 362.0,999.5 365.0,998.3Z" fill="#0016ff"/>
<path d="M371.6,892.5 375.5,892.4 379.0,892.8 382.0,893.6 384.7,895.0 386.8,897.0 387.7,899.0 387.9,901.0 387.1,903.0 385.8,904.5 383.3,906.0 380.5,906.9 377.0,907.5 373.0,907.5 369.5,907.1 366.5,906.3 363.8,905.0 362.2,903.5 361.2,901.5 361.2,899.5 361.9,897.5 363.5,895.7 365.5,894.3 368.5,893.1ZM370.4,922.0 376.5,921.9 383.0,922.4 388.5,923.3 393.0,924.7 396.5,926.5 399.4,929.0 401.7,932.0 403.3,935.5 405.1,942.5 405.8,950.5 405.6,959.5 404.4,967.5 402.7,972.5 400.0,976.9 396.5,980.0 392.0,982.2 385.5,983.8 377.0,984.6 368.0,984.3 360.5,983.2 355.0,981.3 351.0,978.8 348.0,975.5 345.7,971.0 344.6,967.5 343.7,962.5 343.2,957.0 343.2,951.0 343.6,945.0 344.3,940.5 345.3,936.5 346.8,933.0 348.3,930.5 350.1,928.5 352.5,926.5 355.0,925.2 361.5,923.1ZM320.3,940.0 322.0,939.9 323.5,940.2 325.0,941.2 326.0,942.3 327.8,946.0 328.8,951.5 328.5,957.5 327.3,962.0 326.2,964.0 325.0,965.3 323.5,966.3 322.0,966.6 320.5,966.5 319.0,966.0 317.5,964.9 316.3,963.5 314.5,959.7 313.6,955.0 313.9,949.5 315.2,945.0 317.5,941.6 319.0,940.5ZM426.2,940.0 428.0,939.9 429.5,940.3 431.0,941.2 432.5,942.7 434.5,946.8 435.4,952.0 435.0,957.5 433.5,962.2 432.3,964.0 431.0,965.3 429.5,966.2 427.5,966.7 426.0,966.5 424.5,965.7 422.5,963.5 420.9,959.5 420.2,954.5 420.4,949.5 421.5,945.0 423.5,941.7 425.0,940.5ZM372.4,999.0 376.5,999.0 380.0,999.5 383.0,1000.4 385.2,1001.5 386.8,1003.0 387.8,1005.0 387.7,1007.5 386.8,1009.5 385.3,1011.0 382.9,1012.5 380.0,1013.5 376.5,1014.1 373.0,1014.1 369.5,1013.6 366.5,1012.7 364.0,1011.3 362.2,1009.5 361.3,1007.5 361.1,1005.5 361.9,1003.5 363.2,1002.0 365.7,1000.5 368.8,999.5Z" fill="#001fff"/>
<path d="M373.5,895.5 378.0,895.9 381.2,897.5 382.1,898.5 382.7,900.0 382.5,901.5 381.8,902.5 380.5,903.5 379.0,904.2 375.0,904.9 371.0,904.5 367.7,903.0 366.8,902.0 366.4,901.0 366.4,899.5 367.0,898.3 369.5,896.5ZM367.8,923.0 374.0,922.7 380.5,922.9 386.0,923.7 391.0,925.1 394.5,926.7 397.7,929.0 400.3,932.0 402.2,935.5 404.1,942.0 404.9,949.0 404.9,958.0 403.9,965.5 402.2,971.0 400.0,975.0 396.5,978.5 392.5,980.8 386.5,982.7 379.0,983.7 370.5,983.7 362.5,982.7 357.0,981.1 352.5,978.5 349.4,975.5 346.8,971.0 345.6,967.5 344.7,963.5 344.2,959.0 343.9,953.5 344.6,943.5 345.6,939.0 346.8,935.5 348.1,933.0 349.8,930.5 351.8,928.5 354.0,927.0 356.5,925.7 360.0,924.4ZM320.0,945.5 322.0,945.1 323.8,946.0 325.2,948.0 326.0,951.0 326.1,954.5 325.4,958.0 324.0,960.3 322.0,961.4 320.0,961.0 318.5,959.6 317.4,957.5 316.8,955.0 316.8,952.0 317.4,949.0 318.5,946.9ZM425.8,945.5 427.0,945.1 428.0,945.1 430.0,946.3 431.4,948.5 432.2,951.5 432.2,955.0 431.4,958.0 430.0,960.2 428.0,961.4 426.5,961.3 425.0,960.3 423.8,958.5 423.0,955.5 422.9,952.5 423.3,949.5 424.4,947.0ZM371.0,1002.0 375.5,1001.6 378.0,1002.0 380.0,1002.7 381.5,1003.7 382.5,1005.0 382.7,1006.0 382.4,1007.5 380.5,1009.5 377.0,1010.8 373.0,1011.0 369.4,1010.0 367.8,1009.0 366.9,1008.0 366.4,1007.0 366.4,1005.5 366.8,1004.5 367.7,1003.5Z" fill="#0029ff"/>
<path d="M370.2,923.5 376.5,923.4 382.5,923.9 387.5,924.8 392.0,926.4 395.5,928.4 398.3,931.0 400.4,934.0 402.2,938.0 403.8,944.5 404.4,952.0 404.0,960.0 402.7,967.0 400.7,972.0 397.9,976.0 394.1,979.0 389.5,981.1 382.5,982.6 375.0,983.1 367.0,982.7 360.5,981.4 355.5,979.3 352.0,976.8 348.8,973.0 346.8,968.5 345.8,965.0 345.0,960.5 344.6,955.5 344.7,950.5 345.8,941.5 346.8,938.0 348.3,934.5 349.9,932.0 351.6,930.0 354.0,928.1 356.5,926.6 362.5,924.6Z" fill="#0045ff"/>
<path d="M369.6,925.5 375.5,925.3 381.0,925.7 386.0,926.7 390.5,928.4 394.0,930.5 396.6,933.0 399.0,936.5 400.7,940.5 402.0,946.5 402.5,953.5 402.0,960.5 400.5,966.5 398.4,971.0 395.7,974.5 392.0,977.3 387.5,979.4 381.5,980.7 374.5,981.2 367.5,980.7 361.5,979.4 357.0,977.3 353.3,974.5 350.3,970.5 348.3,966.0 346.8,958.5 346.6,950.5 347.7,942.5 350.0,936.5 351.6,934.0 353.3,932.0 357.5,928.9 363.0,926.7Z" fill="#0069ff"/>
<path d="M370.0,927.0 375.5,926.8 381.0,927.3 385.5,928.3 389.7,930.0 393.0,932.1 395.8,935.0 398.0,938.5 399.5,942.5 400.7,948.0 401.0,954.5 400.4,960.5 398.9,966.0 396.9,970.0 394.0,973.5 390.0,976.4 385.5,978.2 379.5,979.4 373.0,979.7 367.0,979.1 361.5,977.5 357.5,975.5 354.0,972.5 351.3,968.5 349.5,964.0 348.2,957.5 348.1,950.0 349.3,943.0 351.5,937.5 354.5,933.5 358.5,930.4 363.5,928.3Z" fill="#008cff"/>
<path d="M368.6,928.5 373.5,928.1 378.5,928.3 383.5,929.2 387.5,930.6 391.0,932.6 393.8,935.0 396.0,938.0 397.9,942.0 399.2,947.0 399.7,953.0 399.3,959.0 397.9,964.5 396.0,968.5 393.3,972.0 390.0,974.6 385.5,976.7 380.0,978.1 374.5,978.5 369.0,978.1 363.5,976.7 359.0,974.6 355.7,972.0 353.0,968.5 351.1,964.5 349.7,958.5 349.3,951.5 350.2,945.0 352.2,939.5 354.8,935.5 358.5,932.2 363.0,929.9Z" fill="#00b0ff"/>
<path d="M369.9,929.5 374.5,929.2 379.5,929.5 384.0,930.6 388.0,932.3 391.0,934.3 393.7,937.0 395.6,940.0 397.3,944.0 398.4,949.5 398.5,955.0 397.8,960.5 396.3,965.0 394.1,969.0 391.3,972.0 388.0,974.2 383.5,976.1 378.5,977.1 373.0,977.3 368.0,976.7 363.0,975.2 359.0,973.0 356.0,970.3 353.5,966.7 351.7,962.5 350.6,956.5 350.5,950.5 351.6,944.5 353.6,939.5 356.5,935.6 360.0,932.8 364.5,930.7Z" fill="#00d4ff"/>
<path d="M370.3,930.5 375.0,930.2 379.5,930.6 384.0,931.7 387.5,933.3 390.6,935.5 393.3,938.5 395.3,942.0 396.5,945.5 397.4,950.5 397.4,955.5 396.7,960.5 395.1,965.0 392.9,968.5 390.0,971.5 386.5,973.7 382.0,975.4 377.0,976.2 372.0,976.2 367.0,975.4 362.5,973.7 359.0,971.5 356.1,968.5 353.9,965.0 352.5,961.0 351.6,955.5 351.6,950.0 352.7,944.5 354.7,940.0 357.5,936.3 361.0,933.6 365.5,931.6Z" fill="#00f7ff"/>
<path d="M370.3,931.5 375.0,931.2 379.5,931.6 383.5,932.7 387.0,934.3 390.0,936.4 392.3,939.0 394.1,942.0 395.6,946.0 396.4,950.5 396.5,955.5 395.8,960.0 394.1,964.5 392.0,967.9 389.5,970.5 386.0,972.8 382.0,974.3 377.5,975.2 372.5,975.2 367.5,974.4 363.5,973.0 360.0,970.9 357.1,968.0 354.9,964.5 353.4,960.5 352.5,955.5 352.6,950.0 353.7,945.0 355.5,940.8 358.0,937.4 361.5,934.6 365.5,932.7Z" fill="#00ffe3"/>
<path d="M369.9,932.5 374.0,932.1 378.5,932.4 382.5,933.3 386.0,934.9 389.0,936.9 391.4,939.5 393.3,942.5 394.6,946.0 395.5,950.5 395.6,955.0 394.9,959.5 393.5,963.5 391.5,966.9 389.0,969.6 386.0,971.6 382.0,973.3 377.5,974.2 372.5,974.3 368.0,973.6 364.0,972.2 360.5,970.0 358.0,967.5 356.0,964.5 354.4,960.5 353.4,955.5 353.5,950.5 354.5,945.5 356.2,941.5 358.9,938.0 361.9,935.5 365.5,933.7Z" fill="#00ffbf"/>
<path d="M373.5,933.0 378.0,933.2 382.0,934.1 385.5,935.7 388.5,937.8 391.0,940.5 392.7,943.5 394.1,947.5 394.7,951.5 394.6,956.0 393.8,960.0 392.2,964.0 390.2,967.0 387.6,969.5 384.5,971.4 380.5,972.8 376.5,973.4 372.0,973.4 368.0,972.7 364.0,971.1 360.8,969.0 358.4,966.5 356.3,963.0 354.9,959.0 354.3,955.0 354.4,950.5 355.2,946.5 356.8,942.5 359.0,939.3 361.5,937.0 365.0,934.9 369.0,933.6Z" fill="#00ff9c"/>
<path d="M371.5,934.0 375.5,933.8 379.5,934.3 383.0,935.4 386.0,937.0 388.5,939.0 390.9,942.0 392.4,945.0 393.5,948.5 393.9,952.5 393.6,957.0 392.6,961.0 391.0,964.3 389.0,967.0 386.0,969.5 382.5,971.3 379.0,972.3 375.0,972.7 371.0,972.4 367.0,971.4 363.5,969.8 360.5,967.5 358.4,965.0 356.6,961.5 355.5,958.0 355.1,953.5 355.4,949.0 356.6,945.0 358.4,941.5 361.0,938.6 364.0,936.4 367.5,934.9Z" fill="#00ff78"/>
<path d="M370.4,935.0 374.0,934.6 378.0,934.9 381.5,935.8 384.5,937.1 387.2,939.0 389.5,941.5 391.3,944.5 392.4,947.5 393.1,951.5 393.0,955.5 392.4,959.0 391.0,962.6 389.1,965.5 386.5,968.1 383.5,969.9 380.0,971.2 376.0,971.8 372.0,971.7 368.5,971.0 365.0,969.7 362.0,967.6 359.9,965.5 358.0,962.5 356.6,959.0 355.9,955.0 356.0,950.5 356.9,946.5 358.5,943.0 360.8,940.0 363.5,937.7 366.9,936.0Z" fill="#00ff54"/>
<path d="M372.7,935.5 376.5,935.5 380.0,936.2 383.0,937.3 386.0,939.1 388.4,941.5 390.1,944.0 391.4,947.0 392.1,950.5 392.3,954.5 391.8,958.0 390.6,961.5 388.8,964.5 386.5,967.0 384.0,968.7 380.5,970.2 377.0,970.9 373.0,971.0 369.5,970.5 366.5,969.5 363.5,967.7 361.0,965.5 359.0,962.7 357.6,959.5 356.9,956.0 356.7,952.0 357.2,948.5 358.4,945.0 360.2,942.0 362.6,939.5 365.5,937.5 369.0,936.2Z" fill="#00ff30"/>
<path d="M371.1,936.5 374.5,936.2 378.0,936.5 381.0,937.3 384.0,938.8 386.5,940.7 388.5,943.0 389.9,945.5 391.0,948.5 391.5,952.0 391.4,955.5 390.7,959.0 389.4,962.0 387.5,964.8 385.1,967.0 382.5,968.6 379.0,969.8 375.5,970.3 372.0,970.1 368.5,969.4 365.5,968.0 363.0,966.3 360.9,964.0 359.1,961.0 358.0,958.0 357.5,954.5 357.6,950.5 358.5,947.0 360.0,943.8 362.0,941.2 364.5,939.1 367.5,937.5Z" fill="#00ff0d"/>
<path d="M373.5,937.0 377.0,937.1 380.0,937.8 383.0,939.1 385.5,940.9 387.5,943.0 389.0,945.5 390.2,948.5 390.7,952.0 390.6,955.5 390.0,958.5 388.8,961.5 387.1,964.0 385.0,966.1 382.5,967.7 379.5,968.8 376.0,969.5 372.5,969.4 369.0,968.7 366.0,967.4 363.5,965.6 361.5,963.5 360.0,961.0 358.8,958.0 358.3,954.5 358.4,951.0 359.0,948.0 360.2,945.0 362.0,942.4 364.5,940.1 367.0,938.6 370.0,937.5Z" fill="#17ff00"/>
<path d="M371.5,938.0 374.5,937.7 377.5,938.0 380.5,938.8 383.0,940.0 385.5,942.0 387.2,944.0 388.6,946.5 389.6,949.5 390.0,952.5 389.8,956.0 389.0,959.0 387.9,961.5 386.0,964.0 384.0,965.8 381.5,967.3 378.5,968.3 375.5,968.7 372.0,968.6 369.0,967.9 366.0,966.5 363.5,964.5 361.8,962.5 360.4,960.0 359.4,957.0 359.0,954.0 359.2,950.5 360.0,947.5 361.4,944.5 363.5,942.0 365.5,940.3 368.5,938.8Z" fill="#3bff00"/>
<path d="M374.4,938.5 377.5,938.8 380.1,939.5 383.0,941.0 385.0,942.6 386.6,944.5 388.0,947.0 388.9,950.0 389.2,953.0 389.0,956.0 388.2,959.0 386.9,961.5 385.0,963.9 383.0,965.5 380.5,966.8 377.5,967.7 374.5,968.0 371.5,967.7 368.5,966.8 366.0,965.5 364.0,963.9 362.4,962.0 361.0,959.5 360.1,956.5 359.8,953.5 360.0,950.5 360.8,947.5 362.1,945.0 364.0,942.6 366.0,941.0 368.5,939.7 371.5,938.8Z" fill="#5eff00"/>
<path d="M371.8,939.5 374.5,939.3 377.5,939.6 380.0,940.3 382.4,941.5 384.3,943.0 386.0,945.0 387.4,947.5 388.1,950.0 388.5,953.0 388.2,956.0 387.6,958.5 386.3,961.0 384.5,963.3 382.5,964.9 380.0,966.2 377.5,966.9 375.0,967.2 372.0,967.0 369.0,966.2 366.6,965.0 364.7,963.5 363.0,961.5 361.6,959.0 360.9,956.5 360.5,953.5 360.8,950.5 361.4,948.0 362.7,945.5 364.5,943.2 366.5,941.6 369.0,940.3Z" fill="#82ff00"/>
<path d="M370.9,940.5 373.5,940.1 376.0,940.1 378.5,940.6 381.0,941.6 383.0,943.0 384.6,944.5 386.0,946.5 387.1,949.0 387.6,951.5 387.7,954.5 387.2,957.0 386.3,959.5 385.0,961.5 383.1,963.5 381.0,964.9 378.5,965.9 376.0,966.4 373.5,966.4 370.9,966.0 368.2,965.0 366.0,963.5 364.4,962.0 363.0,960.0 361.9,957.5 361.4,955.0 361.3,952.0 361.8,949.5 362.7,947.0 364.0,945.0 366.0,943.0 368.2,941.5Z" fill="#a6ff00"/>
<path d="M372.4,941.0 375.0,940.8 377.5,941.2 379.5,941.8 381.7,943.0 383.5,944.5 385.0,946.5 386.0,948.5 386.7,951.0 386.9,953.5 386.6,956.0 385.8,958.5 384.7,960.5 383.5,962.0 381.5,963.6 379.5,964.7 377.0,965.4 374.5,965.7 372.0,965.4 369.5,964.7 367.3,963.5 365.5,962.0 364.0,960.0 363.0,958.0 362.3,955.5 362.1,953.0 362.4,950.5 363.2,948.0 364.3,946.0 366.0,944.0 368.0,942.6 370.0,941.6Z" fill="#c9ff00"/>
<path d="M371.5,942.0 373.5,941.7 376.0,941.7 378.5,942.3 380.5,943.2 382.3,944.5 383.7,946.0 384.9,948.0 385.7,950.0 386.1,952.0 386.1,954.5 385.5,957.0 384.7,959.0 383.5,960.7 382.0,962.2 380.0,963.6 378.0,964.4 376.0,964.8 373.5,964.8 371.0,964.4 368.9,963.5 367.0,962.2 365.3,960.5 364.1,958.5 363.3,956.5 362.9,954.5 362.9,952.0 363.5,949.5 364.3,947.5 365.7,945.5 367.3,944.0 369.5,942.7Z" fill="#edff00"/>
<path d="M373.7,942.5 376.0,942.6 378.0,943.0 381.6,945.0 383.0,946.5 384.2,948.5 385.3,952.5 385.1,955.0 384.6,957.0 382.6,960.5 379.5,962.9 375.5,964.0 373.0,963.9 371.0,963.5 367.4,961.5 366.0,960.0 364.8,958.0 363.7,954.0 363.9,951.5 364.4,949.5 366.4,946.0 369.5,943.6 371.5,942.9Z" fill="#ffed00"/>
<path d="M372.7,943.5 376.5,943.5 380.0,944.9 382.6,947.5 384.2,951.0 384.3,955.0 383.0,958.5 381.8,960.0 380.1,961.5 376.5,963.0 372.5,963.0 369.0,961.6 366.4,959.0 364.8,955.5 364.7,951.5 365.3,949.5 366.4,947.5 369.0,944.9Z" fill="#ffc900"/>
<path d="M372.4,944.5 376.0,944.4 379.1,945.5 381.9,948.0 383.2,951.0 383.4,954.5 382.2,958.0 379.9,960.5 376.5,962.0 373.0,962.1 369.9,961.0 367.1,958.5 365.8,955.5 365.6,952.0 366.8,948.5 369.1,946.0Z" fill="#ffa600"/>
<path d="M372.4,945.5 375.5,945.3 378.5,946.3 381.0,948.5 382.2,951.0 382.5,954.0 381.5,957.2 379.5,959.5 376.5,961.0 373.5,961.2 370.5,960.2 368.0,958.0 366.8,955.5 366.5,952.5 367.5,949.3 369.5,947.0Z" fill="#ff8200"/>
<path d="M373.0,946.5 375.5,946.4 378.0,947.3 380.0,949.0 381.2,951.5 381.3,954.5 380.3,957.0 378.5,958.9 376.0,960.0 373.5,960.1 371.0,959.2 369.0,957.5 367.8,955.0 367.7,952.0 368.7,949.5 370.5,947.6Z" fill="#ff5e00"/>
<path d="M372.3,948.0 374.5,947.6 376.7,948.0 378.5,949.2 379.7,951.0 380.2,953.0 379.7,955.5 378.5,957.3 376.5,958.6 374.5,958.9 372.3,958.5 370.5,957.3 369.3,955.5 368.8,953.5 369.3,951.0 370.5,949.2Z" fill="#ff3b00"/>
<path d="M372.8,949.5 374.5,949.1 376.0,949.4 377.5,950.4 378.2,951.5 378.6,953.0 378.2,955.0 377.5,956.1 376.0,957.1 374.5,957.4 373.0,957.1 371.5,956.1 370.8,955.0 370.4,953.5 370.6,952.0 371.4,950.5Z" fill="#ff1400"/>
</g></g>
<rect x="140.4" y="712.5" width="467.8" height="481.8" fill="none" stroke="#7a7a7a" stroke-width="3.6"/>
<path d="M150.5 1194.3v-7M150.5 712.5v7M262.5 1194.3v-7M262.5 712.5v7M374.5 1194.3v-7M374.5 712.5v7M486.5 1194.3v-7M486.5 712.5v7M598.5 1194.3v-7M598.5 712.5v7M178.5 1194.3v-4M178.5 712.5v4M206.5 1194.3v-4M206.5 712.5v4M234.5 1194.3v-4M234.5 712.5v4M290.5 1194.3v-4M290.5 712.5v4M318.5 1194.3v-4M318.5 712.5v4M346.5 1194.3v-4M346.5 712.5v4M402.5 1194.3v-4M402.5 712.5v4M430.5 1194.3v-4M430.5 712.5v4M458.5 1194.3v-4M458.5 712.5v4M514.5 1194.3v-4M514.5 712.5v4M542.5 1194.3v-4M542.5 712.5v4M570.5 1194.3v-4M570.5 712.5v4M140.4 1185h7M608.2 1185h-7M140.4 1069.12h7M608.2 1069.12h-7M140.4 953.25h7M608.2 953.25h-7M140.4 837.38h7M608.2 837.38h-7M140.4 721.5h7M608.2 721.5h-7M140.4 1156.03h4M608.2 1156.03h-4M140.4 1127.06h4M608.2 1127.06h-4M140.4 1098.09h4M608.2 1098.09h-4M140.4 1040.16h4M608.2 1040.16h-4M140.4 1011.19h4M608.2 1011.19h-4M140.4 982.22h4M608.2 982.22h-4M140.4 924.28h4M608.2 924.28h-4M140.4 895.31h4M608.2 895.31h-4M140.4 866.34h4M608.2 866.34h-4M140.4 808.41h4M608.2 808.41h-4M140.4 779.44h4M608.2 779.44h-4M140.4 750.47h4M608.2 750.47h-4" stroke="#222" stroke-width="2" fill="none"/>
<text class="s" x="150.5" y="1232.66" font-size="32" text-anchor="middle"><tspan fill="#3a3a3a" stroke="#4a4a4a" stroke-width="0.7" font-size="0.85em">−</tspan><tspan dx="4.5">0.4</tspan></text>
<text class="s" x="134" y="1196.46" font-size="32" text-anchor="end"><tspan fill="#3a3a3a" stroke="#4a4a4a" stroke-width="0.7" font-size="0.85em">−</tspan><tspan dx="4.5">0.4</tspan></text>
<text class="s" x="262.5" y="1232.66" font-size="32" text-anchor="middle"><tspan fill="#3a3a3a" stroke="#4a4a4a" stroke-width="0.7" font-size="0.85em">−</tspan><tspan dx="4.5">0.2</tspan></text>
<text class="s" x="134" y="1080.58" font-size="32" text-anchor="end"><tspan fill="#3a3a3a" stroke="#4a4a4a" stroke-width="0.7" font-size="0.85em">−</tspan><tspan dx="4.5">0.2</tspan></text>
<text class="s" x="374.5" y="1232.66" font-size="32" text-anchor="middle">0.0</text>
<text class="s" x="134" y="964.71" font-size="32" text-anchor="end">0.0</text>
<text class="s" x="486.5" y="1232.66" font-size="32" text-anchor="middle">0.2</text>
<text class="s" x="134" y="848.83" font-size="32" text-anchor="end">0.2</text>
<text class="s" x="598.5" y="1232.66" font-size="32" text-anchor="middle">0.4</text>
<text class="s" x="134" y="732.96" font-size="32" text-anchor="end">0.4</text>
<rect x="659.5" y="715" width="24" height="484.4" fill="url(#hue)" stroke="#000" stroke-opacity="0.35" stroke-width="1.2"/>
<path d="M683.5 1197.4h4M683.5 1172.15h4M683.5 1146.9h4M683.5 1121.65h4M683.5 1096.4h4M683.5 1071.15h4M683.5 1045.9h4M683.5 1020.65h4M683.5 995.4h4M683.5 970.15h4M683.5 944.9h4M683.5 919.65h4M683.5 894.4h4M683.5 869.15h4M683.5 843.9h4M683.5 818.65h4M683.5 793.4h4M683.5 768.15h4M683.5 742.9h4M683.5 717.65h4" stroke="#ccc" stroke-width="1.2"/>
<text class="s" x="695.5" y="1208.86" font-size="32">0</text>
<text class="s" x="695.5" y="1107.86" font-size="32">0.2</text>
<text class="s" x="695.5" y="1006.86" font-size="32">0.4</text>
<text class="s" x="695.5" y="905.86" font-size="32">0.6</text>
<text class="s" x="695.5" y="804.86" font-size="32">0.8</text>
<g id="c_title" class="tg" transform="translate(375.96 688.58) scale(1.0833 0.9897) translate(-375.50 -689.00)"><text class="r b" x="375.5" y="699" font-size="43" text-anchor="middle">(c)</text></g>
<g id="c_xlab" class="tg" transform="translate(380.06 1269.13) scale(1.1333 0.9889) translate(-379.00 -1267.50)"><text class="r" x="380" y="1279" font-size="44" text-anchor="middle">sin<tspan class="i" dx="1">θ</tspan><tspan class="i" font-size="31" dy="8" dx="3">x</tspan></text></g>
<g id="c_ylab" class="tg" transform="translate(54.82 956.43) scale(1.0329 1.1251) translate(-54.00 -955.50)"><text class="r" transform="translate(62 954) rotate(-90)" font-size="44" text-anchor="middle">sin<tspan class="i" dx="1">θ</tspan><tspan class="i" font-size="31" dy="8" dx="3">y</tspan></text></g>
<g id="c_cbl" class="tg" transform="translate(782.84 976.85) scale(1.0195 1.0006) translate(-788.00 -982.00)"><text class="r" transform="translate(796 979) rotate(-90)" font-size="44" letter-spacing="4" text-anchor="middle"><tspan class="i">I</tspan><tspan class="i" font-size="31" dy="8">p</tspan><tspan dy="-8">(</tspan><tspan class="i">θ</tspan><tspan class="i" font-size="31" dy="8">x</tspan><tspan dy="-8">, </tspan><tspan class="i">θ</tspan><tspan class="i" font-size="31" dy="8">y</tspan><tspan dy="-8">)</tspan></text></g>
<path d="M1068.35 730.5V1178.5M1146.4 730.5V1178.5M1224.45 730.5V1178.5M1302.5 730.5V1178.5M1380.55 730.5V1178.5M1458.6 730.5V1178.5M981 1074H1488.5M981 989.5H1488.5M981 905H1488.5M981 820.5H1488.5" stroke="#d8d8d8" stroke-width="2.2" fill="none"/>
<rect x="979.6" y="729.8" width="509.8" height="450.4" fill="none" stroke="#5a5a5a" stroke-width="3"/>
<path d="M990.3 1179.5v-9M1112.9 1179.5v-9M1235.5 1179.5v-9M1358.1 1179.5v-9M1480.7 1179.5v-9M980 1158.5h7M980 1074h7M980 989.5h7M980 905h7M980 820.5h7M980 736h7" stroke="#333" stroke-width="1.8" fill="none"/>
<polyline points="990.3,752.48 994.39,752.23 998.47,752.15 1002.56,752.28 1006.65,752.62 1010.73,753.14 1014.82,753.78 1018.91,754.47 1022.99,755.15 1027.08,755.79 1031.17,756.38 1035.25,756.93 1039.34,757.47 1043.43,758 1047.51,758.54 1051.6,759.08 1055.69,759.63 1059.77,760.17 1063.86,760.67 1067.95,761.13 1072.03,761.53 1076.12,761.88 1080.21,762.16 1084.29,762.39 1088.38,762.55 1092.47,762.67 1096.55,762.74 1100.64,762.79 1104.73,762.8 1108.81,762.81 1112.9,762.81 1116.99,762.81 1121.07,762.8 1125.16,762.79 1129.25,762.74 1133.33,762.67 1137.42,762.55 1141.51,762.39 1145.59,762.16 1149.68,761.88 1153.77,761.53 1157.85,761.13 1161.94,760.67 1166.03,760.17 1170.11,759.63 1174.2,759.08 1178.29,758.54 1182.37,758 1186.46,757.47 1190.55,756.93 1194.63,756.38 1198.72,755.79 1202.81,755.15 1206.89,754.47 1210.98,753.78 1215.07,753.14 1219.15,752.62 1223.24,752.28 1227.33,752.15 1231.41,752.23 1235.5,752.48 1239.59,752.81 1243.67,753.14 1247.76,753.43 1251.85,753.66 1255.93,753.86 1260.02,754.07 1264.11,754.34 1268.19,754.72 1272.28,755.22 1276.37,755.83 1280.45,756.51 1284.54,757.23 1288.63,757.94 1292.71,758.62 1296.8,759.25 1300.89,759.82 1304.98,760.33 1309.06,760.78 1313.15,761.18 1317.24,761.53 1321.32,761.84 1325.41,762.1 1329.5,762.32 1333.58,762.49 1337.67,762.63 1341.76,762.73 1345.84,762.79 1349.93,762.83 1354.02,762.85 1358.1,762.85 1362.19,762.85 1366.28,762.83 1370.36,762.79 1374.45,762.73 1378.54,762.63 1382.62,762.49 1386.71,762.32 1390.8,762.1 1394.88,761.84 1398.97,761.53 1403.06,761.18 1407.14,760.78 1411.23,760.33 1415.32,759.82 1419.4,759.25 1423.49,758.62 1427.58,757.94 1431.66,757.23 1435.75,756.51 1439.84,755.83 1443.92,755.22 1448.01,754.72 1452.1,754.34 1456.18,754.07 1460.27,753.86 1464.36,753.66 1468.44,753.43 1472.53,753.14 1476.62,752.81 1480.7,752.48" fill="none" stroke="#1a1ab4" stroke-width="5" stroke-linejoin="round"/>
<path d="M990.3 1157.6H1480.7" stroke="#77dd77" stroke-width="5" stroke-dasharray="13 8.1" fill="none"/>
<path d="M990.3 1157.6H1483.7" stroke="#111" stroke-width="4.4" stroke-linecap="round" stroke-dasharray="0 10.55" fill="none"/>
<text class="s" x="974" y="1170.5" font-size="38" text-anchor="end" transform="translate(974 0) scale(0.7 1) translate(-974 0)">0</text>
<text class="s" x="974" y="1086" font-size="38" text-anchor="end" transform="translate(974 0) scale(0.7 1) translate(-974 0)">0.2</text>
<text class="s" x="974" y="1001.5" font-size="38" text-anchor="end" transform="translate(974 0) scale(0.7 1) translate(-974 0)">0.4</text>
<text class="s" x="974" y="917" font-size="38" text-anchor="end" transform="translate(974 0) scale(0.7 1) translate(-974 0)">0.6</text>
<text class="s" x="974" y="832.5" font-size="38" text-anchor="end" transform="translate(974 0) scale(0.7 1) translate(-974 0)">0.8</text>
<text class="s" x="974" y="751.1" font-size="38" text-anchor="end" transform="translate(974 0) scale(0.7 1) translate(-974 0)">1</text>
<g id="d_x0" class="tg" transform="translate(987.87 1206.64) scale(0.6706 1.0429) translate(-998.00 -1207.00)"><text class="s" x="988" y="1220" font-size="37">0</text></g>
<g id="d_x1" class="tg" transform="translate(1110.81 1212.79) scale(0.9512 1.0206) translate(-1110.50 -1213.50)"><text class="r i" x="1111" y="1203" font-size="28" text-anchor="middle">π</text><rect x="1104" y="1208" width="15" height="2.8" fill="#111"/><text class="s" x="1111" y="1239" font-size="28" text-anchor="middle">2</text></g>
<g id="d_x2" class="tg" transform="translate(1233.84 1207.50) scale(0.8059 1.1555) translate(-1234.00 -1210.00)"><text class="r i" x="1234" y="1221" font-size="40" text-anchor="middle">π</text></g>
<g id="d_x3" class="tg" transform="translate(1355.97 1215.25) scale(0.9096 0.9878) translate(-1357.00 -1215.00)"><text class="s" x="1357" y="1206" font-size="28" text-anchor="middle">3<tspan class="r i" stroke="none">π</tspan></text><rect x="1343" y="1212" width="28" height="3" fill="#111"/><text class="s" x="1357" y="1243" font-size="28" text-anchor="middle">2</text></g>
<g id="d_x4" class="tg" transform="translate(1478.58 1206.97) scale(0.8379 0.9904) translate(-1479.00 -1207.50)"><text class="s" x="1479" y="1221" font-size="38" text-anchor="middle">2<tspan dx="6" class="r i" stroke="none">π</tspan></text></g>
<g id="lg1" class="tg" transform="translate(1644.45 753.80) scale(1.0975 1.1007) translate(-1639.00 -757.00)"><text class="r" x="1585" y="764" font-size="36" stroke-width="0.1"><tspan class="i">I</tspan>(<tspan class="i">θ</tspan><tspan font-size="20" dy="8">x</tspan><tspan font-size="20" dy="-21" dx="-10">0</tspan><tspan dy="13" dx="5" font-weight="bold" font-size="26">,</tspan><tspan class="i" dx="8">θ</tspan><tspan font-size="20" dy="8">y</tspan><tspan font-size="20" dy="-21" dx="-10">0</tspan><tspan dy="13">)</tspan></text></g>
<g id="lg2" class="tg" transform="translate(1644.41 835.30) scale(1.0337 1.0562) translate(-1642.00 -839.00)"><text class="r" x="1588" y="846" font-size="36" stroke-width="0.1"><tspan class="i">I</tspan>(<tspan class="i">θ</tspan><tspan font-size="20" dy="8">x</tspan><tspan font-size="20" dy="-21" dx="-10">1</tspan><tspan dy="13" dx="5" font-weight="bold" font-size="26">,</tspan><tspan class="i" dx="8">θ</tspan><tspan font-size="20" dy="8">y</tspan><tspan font-size="20" dy="-21" dx="-10">0</tspan><tspan dy="13">)</tspan></text></g>
<g id="lg3" class="tg" transform="translate(1646.15 917.22) scale(1.0661 1.0449) translate(-1642.00 -920.00)"><text class="r" x="1588" y="927" font-size="36" stroke-width="0.1"><tspan class="i">I</tspan>(<tspan class="i">θ</tspan><tspan font-size="20" dy="8">x</tspan><tspan font-size="20" dy="-21" dx="-10">0</tspan><tspan dy="13" dx="5" font-weight="bold" font-size="26">,</tspan><tspan class="i" dx="8">θ</tspan><tspan font-size="20" dy="8">y</tspan><tspan font-size="20" dy="-21" dx="-10">1</tspan><tspan dy="13">)</tspan></text></g>
<g id="lg4" class="tg" transform="translate(1641.50 1000.02) scale(1.0226 1.0983) translate(-1640.00 -1003.00)"><text class="r" x="1586" y="1010" font-size="36" stroke-width="0.1"><tspan class="i">I</tspan>(<tspan class="i">θ</tspan><tspan font-size="20" dy="8">x</tspan><tspan font-size="20" dy="-21" dx="-10">1</tspan><tspan dy="13" dx="5" font-weight="bold" font-size="26">,</tspan><tspan class="i" dx="8">θ</tspan><tspan font-size="20" dy="8">y</tspan><tspan font-size="20" dy="-21" dx="-10">1</tspan><tspan dy="13">)</tspan></text></g>
<path d="M1523 755H1581" stroke="#2a2aa6" stroke-width="5.5"/>
<path d="M1525 837.8H1582" stroke="#c03050" stroke-width="4" stroke-linecap="round" stroke-dasharray="0 10.7"/>
<path d="M1522 919H1571" stroke="#55cc55" stroke-width="5" stroke-dasharray="10 9.5"/>
<path d="M1525 1001.3H1582" stroke="#111" stroke-width="4.6" stroke-linecap="round" stroke-dasharray="0 10.7"/>
<g id="d_title" class="tg" transform="translate(1222.00 707.94) scale(0.9936 0.9350) translate(-1222.00 -708.00)"><text class="r b" x="1222" y="718" font-size="43" text-anchor="middle">(d)</text></g>
<g id="d_xlab" class="tg" transform="translate(1220.30 1268.81) scale(1.0521 1.0552) translate(-1219.50 -1267.50)"><text class="r" x="1220" y="1279" font-size="44" text-anchor="middle"><tspan class="i">φ</tspan> (units of radian)</text></g>
<g id="d_ylab" class="tg" transform="translate(903.52 986.35) scale(1.0072 0.9784) translate(-908.00 -992.50)"><text class="r" transform="translate(916 989) rotate(-90)" font-size="44" letter-spacing="4.5" text-anchor="middle"><tspan class="i">I</tspan>(<tspan class="i">θ</tspan><tspan class="i" font-size="31" dy="8">x</tspan><tspan class="i" font-size="31" dy="-22" dx="-15">m</tspan><tspan dy="14">, </tspan><tspan class="i">θ</tspan><tspan class="i" font-size="31" dy="8">y</tspan><tspan class="i" font-size="31" dy="-22" dx="-14">n</tspan><tspan dy="14">)</tspan></text></g>
</svg></body></html>
